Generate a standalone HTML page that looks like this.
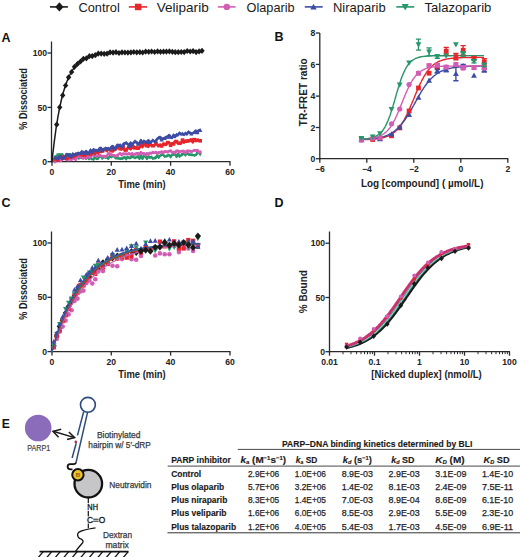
<!DOCTYPE html>
<html><head><meta charset="utf-8"><style>
html,body{margin:0;padding:0;background:#fff;width:520px;height:557px;overflow:hidden}
svg{display:block}
text{font-family:'Liberation Sans',sans-serif}
</style></head><body>
<svg width="520" height="557" viewBox="0 0 520 557" style="font-family:'Liberation Sans',sans-serif">
<rect width="520" height="557" fill="#fff"/>
<line x1="50" y1="6.9" x2="67.9" y2="6.9" stroke="#1b1b1b" stroke-width="1.6"/>
<path d="M59.4 2.2L63.5 6.9L59.4 11.6L55.3 6.9Z" fill="#1b1b1b"/>
<text x="78.5" y="12.1" font-size="13.6" font-weight="normal" text-anchor="start" fill="#1a1a1a" textLength="41.3" lengthAdjust="spacingAndGlyphs" >Control</text>
<line x1="128.8" y1="6.9" x2="147" y2="6.9" stroke="#e5262c" stroke-width="1.6"/>
<rect x="134.9" y="3.7" width="6.5" height="6.5" fill="#e5262c"/>
<text x="156.7" y="12.1" font-size="13.6" font-weight="normal" text-anchor="start" fill="#1a1a1a" textLength="52.0" lengthAdjust="spacingAndGlyphs" >Veliparib</text>
<line x1="217.8" y1="6.9" x2="235.6" y2="6.9" stroke="#d25db4" stroke-width="1.6"/>
<circle cx="226.8" cy="6.9" r="3.2" fill="#d25db4"/>
<text x="246.5" y="12.1" font-size="13.6" font-weight="normal" text-anchor="start" fill="#1a1a1a" textLength="48.1" lengthAdjust="spacingAndGlyphs" >Olaparib</text>
<line x1="304.8" y1="6.9" x2="322.7" y2="6.9" stroke="#3d4ca4" stroke-width="1.6"/>
<path d="M313.5 3.7L316.7 9.5L310.3 9.5Z" fill="#3d4ca4"/>
<text x="333" y="12.1" font-size="13.6" font-weight="normal" text-anchor="start" fill="#1a1a1a" textLength="52.6" lengthAdjust="spacingAndGlyphs" >Niraparib</text>
<line x1="396.3" y1="6.9" x2="414.3" y2="6.9" stroke="#27966a" stroke-width="1.6"/>
<path d="M405.2 10.4L408.7 4.1L401.7 4.1Z" fill="#27966a"/>
<text x="424.5" y="12.1" font-size="13.6" font-weight="normal" text-anchor="start" fill="#1a1a1a" textLength="66.8" lengthAdjust="spacingAndGlyphs" >Talazoparib</text>
<path d="M51.5 41.5V162.2" stroke="#2a2a2a" stroke-width="1.3" fill="none"/>
<path d="M51.0 161.7H230.5" stroke="#2a2a2a" stroke-width="1.3" fill="none"/>
<path d="M47.5 53H51.5" stroke="#2a2a2a" stroke-width="1.3"/>
<text x="47.0" y="56.1" font-size="8.6" font-weight="bold" text-anchor="end" fill="#222" >100</text>
<path d="M47.5 107.4H51.5" stroke="#2a2a2a" stroke-width="1.3"/>
<text x="47.0" y="110.5" font-size="8.6" font-weight="bold" text-anchor="end" fill="#222" >50</text>
<path d="M47.5 161.7H51.5" stroke="#2a2a2a" stroke-width="1.3"/>
<text x="47.0" y="164.79999999999998" font-size="8.6" font-weight="bold" text-anchor="end" fill="#222" >0</text>
<path d="M52 161.7V165.7" stroke="#2a2a2a" stroke-width="1.3"/>
<text x="52" y="174.7" font-size="8.6" font-weight="bold" text-anchor="middle" fill="#222" >0</text>
<path d="M111.3 161.7V165.7" stroke="#2a2a2a" stroke-width="1.3"/>
<text x="111.3" y="174.7" font-size="8.6" font-weight="bold" text-anchor="middle" fill="#222" >20</text>
<path d="M170.6 161.7V165.7" stroke="#2a2a2a" stroke-width="1.3"/>
<text x="170.6" y="174.7" font-size="8.6" font-weight="bold" text-anchor="middle" fill="#222" >40</text>
<path d="M230 161.7V165.7" stroke="#2a2a2a" stroke-width="1.3"/>
<text x="230" y="174.7" font-size="8.6" font-weight="bold" text-anchor="middle" fill="#222" >60</text>
<text x="142" y="188.4" font-size="10.5" font-weight="bold" text-anchor="middle" fill="#222" textLength="47.5" lengthAdjust="spacingAndGlyphs" >Time (min)</text>
<text x="0" y="0" font-size="10.5" font-weight="bold" text-anchor="middle" fill="#222" textLength="61.4" lengthAdjust="spacingAndGlyphs" transform="translate(27.2,99) rotate(-90)">% Dissociated</text>
<text x="1.5" y="41.6" font-size="12.5" font-weight="bold" text-anchor="start" fill="#111" >A</text>
<path d="M55.0 157.2 L56.4 155.9 L57.9 154.8 L59.4 154.3 L60.9 154.9 L62.4 154.3 L63.9 157.3 L65.3 155.8 L66.8 154.3 L68.3 155.2 L69.8 154.4 L71.3 157.2 L72.8 156.2 L74.2 157.1 L75.7 156.3 L77.2 156.4 L78.7 158.4 L80.2 157.9 L81.7 157.9 L83.1 156.0 L84.6 156.7 L86.1 158.8 L87.6 156.9 L89.1 159.1 L90.5 157.5 L92.0 159.1 L93.5 159.4 L95.0 156.6 L96.5 158.7 L98.0 158.7 L99.4 156.2 L100.9 156.5 L102.4 158.4 L103.9 156.2 L105.4 157.6 L106.9 157.1 L108.3 158.6 L109.8 156.2 L111.3 157.0 L112.8 156.1 L114.3 156.3 L115.7 158.2 L117.2 158.0 L118.7 158.6 L120.2 158.7 L121.7 158.9 L123.2 158.1 L124.6 157.1 L126.1 159.0 L127.6 156.8 L129.1 157.9 L130.6 158.0 L132.1 156.3 L133.5 157.4 L135.0 157.9 L136.5 157.4 L138.0 156.6 L139.5 158.7 L140.9 155.7 L142.4 158.8 L143.9 156.4 L145.4 156.1 L146.9 158.7 L148.4 156.2 L149.8 157.6 L151.3 156.8 L152.8 158.5 L154.3 158.3 L155.8 157.8 L157.3 155.1 L158.7 157.5 L160.2 155.6 L161.7 154.9 L163.2 154.7 L164.7 156.6 L166.2 156.4 L167.6 155.8 L169.1 154.9 L170.6 156.9 L172.1 154.7 L173.6 154.5 L175.0 154.2 L176.5 156.7 L178.0 153.7 L179.5 156.4 L181.0 155.4 L182.5 154.5 L183.9 153.3 L185.4 155.1 L186.9 153.1 L188.4 154.2 L189.9 154.9 L191.4 154.8 L192.8 155.1 L194.3 155.3 L195.8 155.0 L197.3 153.1 L198.8 152.0 L200.2 154.7" fill="none" stroke="#27966a" stroke-width="2.4" stroke-linejoin="round" />
<path d="M55.0 159.0L56.7 155.8L53.2 155.8Z" fill="#27966a"/>
<path d="M57.9 156.5L59.7 153.4L56.2 153.4Z" fill="#27966a"/>
<path d="M60.9 156.7L62.6 153.5L59.2 153.5Z" fill="#27966a"/>
<path d="M63.9 159.0L65.6 155.9L62.1 155.9Z" fill="#27966a"/>
<path d="M66.8 156.0L68.6 152.9L65.1 152.9Z" fill="#27966a"/>
<path d="M69.8 156.2L71.5 153.0L68.0 153.0Z" fill="#27966a"/>
<path d="M72.8 157.9L74.5 154.8L71.0 154.8Z" fill="#27966a"/>
<path d="M75.7 158.0L77.5 154.9L74.0 154.9Z" fill="#27966a"/>
<path d="M78.7 160.1L80.4 157.0L76.9 157.0Z" fill="#27966a"/>
<path d="M81.7 159.6L83.4 156.5L79.9 156.5Z" fill="#27966a"/>
<path d="M84.6 158.4L86.4 155.3L82.9 155.3Z" fill="#27966a"/>
<path d="M87.6 158.7L89.3 155.5L85.8 155.5Z" fill="#27966a"/>
<path d="M90.5 159.2L92.3 156.1L88.8 156.1Z" fill="#27966a"/>
<path d="M93.5 161.2L95.2 158.1L91.8 158.1Z" fill="#27966a"/>
<path d="M96.5 160.5L98.2 157.3L94.7 157.3Z" fill="#27966a"/>
<path d="M99.4 157.9L101.2 154.8L97.7 154.8Z" fill="#27966a"/>
<path d="M102.4 160.1L104.1 157.0L100.7 157.0Z" fill="#27966a"/>
<path d="M105.4 159.3L107.1 156.2L103.6 156.2Z" fill="#27966a"/>
<path d="M108.3 160.3L110.1 157.2L106.6 157.2Z" fill="#27966a"/>
<path d="M111.3 158.7L113.0 155.6L109.6 155.6Z" fill="#27966a"/>
<path d="M114.3 158.0L116.0 154.9L112.5 154.9Z" fill="#27966a"/>
<path d="M117.2 159.7L119.0 156.6L115.5 156.6Z" fill="#27966a"/>
<path d="M120.2 160.4L121.9 157.3L118.5 157.3Z" fill="#27966a"/>
<path d="M123.2 159.8L124.9 156.7L121.4 156.7Z" fill="#27966a"/>
<path d="M126.1 160.8L127.9 157.7L124.4 157.7Z" fill="#27966a"/>
<path d="M129.1 159.7L130.8 156.5L127.4 156.5Z" fill="#27966a"/>
<path d="M132.1 158.1L133.8 154.9L130.3 154.9Z" fill="#27966a"/>
<path d="M135.0 159.7L136.8 156.5L133.3 156.5Z" fill="#27966a"/>
<path d="M138.0 158.4L139.7 155.2L136.2 155.2Z" fill="#27966a"/>
<path d="M140.9 157.4L142.7 154.3L139.2 154.3Z" fill="#27966a"/>
<path d="M143.9 158.1L145.7 155.0L142.2 155.0Z" fill="#27966a"/>
<path d="M146.9 160.5L148.6 157.4L145.1 157.4Z" fill="#27966a"/>
<path d="M149.8 159.3L151.6 156.2L148.1 156.2Z" fill="#27966a"/>
<path d="M152.8 160.3L154.6 157.1L151.1 157.1Z" fill="#27966a"/>
<path d="M155.8 159.5L157.5 156.4L154.0 156.4Z" fill="#27966a"/>
<path d="M158.7 159.2L160.5 156.1L157.0 156.1Z" fill="#27966a"/>
<path d="M161.7 156.6L163.4 153.5L160.0 153.5Z" fill="#27966a"/>
<path d="M164.7 158.3L166.4 155.2L162.9 155.2Z" fill="#27966a"/>
<path d="M167.6 157.5L169.4 154.4L165.9 154.4Z" fill="#27966a"/>
<path d="M170.6 158.7L172.3 155.5L168.9 155.5Z" fill="#27966a"/>
<path d="M173.6 156.2L175.3 153.1L171.8 153.1Z" fill="#27966a"/>
<path d="M176.5 158.5L178.3 155.4L174.8 155.4Z" fill="#27966a"/>
<path d="M179.5 158.1L181.2 155.0L177.8 155.0Z" fill="#27966a"/>
<path d="M182.5 156.2L184.2 153.1L180.7 153.1Z" fill="#27966a"/>
<path d="M185.4 156.9L187.2 153.7L183.7 153.7Z" fill="#27966a"/>
<path d="M188.4 156.0L190.1 152.9L186.6 152.9Z" fill="#27966a"/>
<path d="M191.4 156.5L193.1 153.4L189.6 153.4Z" fill="#27966a"/>
<path d="M194.3 157.1L196.1 154.0L192.6 154.0Z" fill="#27966a"/>
<path d="M197.3 154.9L199.0 151.7L195.5 151.7Z" fill="#27966a"/>
<path d="M200.2 156.4L202.0 153.3L198.5 153.3Z" fill="#27966a"/>
<path d="M55.0 161.8 L56.4 158.6 L57.9 159.9 L59.4 160.2 L60.9 160.6 L62.4 159.2 L63.9 158.3 L65.3 159.4 L66.8 159.3 L68.3 160.4 L69.8 157.4 L71.3 160.1 L72.8 158.5 L74.2 157.2 L75.7 159.4 L77.2 157.3 L78.7 156.4 L80.2 157.3 L81.7 156.6 L83.1 158.7 L84.6 157.5 L86.1 158.2 L87.6 155.8 L89.1 157.5 L90.5 156.8 L92.0 154.9 L93.5 155.2 L95.0 154.6 L96.5 156.2 L98.0 155.9 L99.4 155.0 L100.9 155.7 L102.4 156.3 L103.9 155.8 L105.4 156.6 L106.9 155.8 L108.3 153.7 L109.8 153.8 L111.3 154.8 L112.8 155.1 L114.3 155.6 L115.7 156.4 L117.2 155.7 L118.7 154.0 L120.2 153.6 L121.7 155.2 L123.2 153.8 L124.6 153.7 L126.1 153.9 L127.6 154.0 L129.1 153.6 L130.6 154.8 L132.1 153.6 L133.5 155.0 L135.0 154.2 L136.5 153.2 L138.0 153.4 L139.5 154.7 L140.9 152.5 L142.4 153.4 L143.9 153.5 L145.4 155.3 L146.9 153.5 L148.4 154.4 L149.8 153.0 L151.3 153.6 L152.8 152.4 L154.3 152.8 L155.8 152.3 L157.3 153.6 L158.7 152.6 L160.2 152.2 L161.7 151.8 L163.2 153.3 L164.7 151.6 L166.2 151.5 L167.6 152.0 L169.1 151.0 L170.6 150.9 L172.1 152.3 L173.6 152.2 L175.0 153.3 L176.5 151.0 L178.0 150.6 L179.5 152.0 L181.0 151.2 L182.5 151.1 L183.9 151.0 L185.4 152.7 L186.9 150.6 L188.4 151.2 L189.9 150.8 L191.4 151.6 L192.8 150.8 L194.3 150.3 L195.8 150.6 L197.3 150.3 L198.8 152.5 L200.2 151.9" fill="none" stroke="#d25db4" stroke-width="2.4" stroke-linejoin="round" />
<circle cx="55.0" cy="161.8" r="1.6" fill="#d25db4"/>
<circle cx="57.9" cy="159.9" r="1.6" fill="#d25db4"/>
<circle cx="60.9" cy="160.6" r="1.6" fill="#d25db4"/>
<circle cx="63.9" cy="158.3" r="1.6" fill="#d25db4"/>
<circle cx="66.8" cy="159.3" r="1.6" fill="#d25db4"/>
<circle cx="69.8" cy="157.4" r="1.6" fill="#d25db4"/>
<circle cx="72.8" cy="158.5" r="1.6" fill="#d25db4"/>
<circle cx="75.7" cy="159.4" r="1.6" fill="#d25db4"/>
<circle cx="78.7" cy="156.4" r="1.6" fill="#d25db4"/>
<circle cx="81.7" cy="156.6" r="1.6" fill="#d25db4"/>
<circle cx="84.6" cy="157.5" r="1.6" fill="#d25db4"/>
<circle cx="87.6" cy="155.8" r="1.6" fill="#d25db4"/>
<circle cx="90.5" cy="156.8" r="1.6" fill="#d25db4"/>
<circle cx="93.5" cy="155.2" r="1.6" fill="#d25db4"/>
<circle cx="96.5" cy="156.2" r="1.6" fill="#d25db4"/>
<circle cx="99.4" cy="155.0" r="1.6" fill="#d25db4"/>
<circle cx="102.4" cy="156.3" r="1.6" fill="#d25db4"/>
<circle cx="105.4" cy="156.6" r="1.6" fill="#d25db4"/>
<circle cx="108.3" cy="153.7" r="1.6" fill="#d25db4"/>
<circle cx="111.3" cy="154.8" r="1.6" fill="#d25db4"/>
<circle cx="114.3" cy="155.6" r="1.6" fill="#d25db4"/>
<circle cx="117.2" cy="155.7" r="1.6" fill="#d25db4"/>
<circle cx="120.2" cy="153.6" r="1.6" fill="#d25db4"/>
<circle cx="123.2" cy="153.8" r="1.6" fill="#d25db4"/>
<circle cx="126.1" cy="153.9" r="1.6" fill="#d25db4"/>
<circle cx="129.1" cy="153.6" r="1.6" fill="#d25db4"/>
<circle cx="132.1" cy="153.6" r="1.6" fill="#d25db4"/>
<circle cx="135.0" cy="154.2" r="1.6" fill="#d25db4"/>
<circle cx="138.0" cy="153.4" r="1.6" fill="#d25db4"/>
<circle cx="140.9" cy="152.5" r="1.6" fill="#d25db4"/>
<circle cx="143.9" cy="153.5" r="1.6" fill="#d25db4"/>
<circle cx="146.9" cy="153.5" r="1.6" fill="#d25db4"/>
<circle cx="149.8" cy="153.0" r="1.6" fill="#d25db4"/>
<circle cx="152.8" cy="152.4" r="1.6" fill="#d25db4"/>
<circle cx="155.8" cy="152.3" r="1.6" fill="#d25db4"/>
<circle cx="158.7" cy="152.6" r="1.6" fill="#d25db4"/>
<circle cx="161.7" cy="151.8" r="1.6" fill="#d25db4"/>
<circle cx="164.7" cy="151.6" r="1.6" fill="#d25db4"/>
<circle cx="167.6" cy="152.0" r="1.6" fill="#d25db4"/>
<circle cx="170.6" cy="150.9" r="1.6" fill="#d25db4"/>
<circle cx="173.6" cy="152.2" r="1.6" fill="#d25db4"/>
<circle cx="176.5" cy="151.0" r="1.6" fill="#d25db4"/>
<circle cx="179.5" cy="152.0" r="1.6" fill="#d25db4"/>
<circle cx="182.5" cy="151.1" r="1.6" fill="#d25db4"/>
<circle cx="185.4" cy="152.7" r="1.6" fill="#d25db4"/>
<circle cx="188.4" cy="151.2" r="1.6" fill="#d25db4"/>
<circle cx="191.4" cy="151.6" r="1.6" fill="#d25db4"/>
<circle cx="194.3" cy="150.3" r="1.6" fill="#d25db4"/>
<circle cx="197.3" cy="150.3" r="1.6" fill="#d25db4"/>
<circle cx="200.2" cy="151.9" r="1.6" fill="#d25db4"/>
<path d="M55.0 159.2 L56.4 158.0 L57.9 159.4 L59.4 157.3 L60.9 157.2 L62.4 159.2 L63.9 157.2 L65.3 157.9 L66.8 158.3 L68.3 157.7 L69.8 156.7 L71.3 156.9 L72.8 156.5 L74.2 156.9 L75.7 154.9 L77.2 154.9 L78.7 153.7 L80.2 153.5 L81.7 154.6 L83.1 151.8 L84.6 155.2 L86.1 153.4 L87.6 153.7 L89.1 153.1 L90.5 154.0 L92.0 151.1 L93.5 152.7 L95.0 153.8 L96.5 151.4 L98.0 153.3 L99.4 151.3 L100.9 152.0 L102.4 150.9 L103.9 149.2 L105.4 149.6 L106.9 151.0 L108.3 149.3 L109.8 149.8 L111.3 150.7 L112.8 151.4 L114.3 149.4 L115.7 149.4 L117.2 147.7 L118.7 147.5 L120.2 148.7 L121.7 149.5 L123.2 147.3 L124.6 150.6 L126.1 150.0 L127.6 148.0 L129.1 147.7 L130.6 149.3 L132.1 147.3 L133.5 146.1 L135.0 147.9 L136.5 147.5 L138.0 148.2 L139.5 147.7 L140.9 144.9 L142.4 147.1 L143.9 144.6 L145.4 144.6 L146.9 145.7 L148.4 146.8 L149.8 143.9 L151.3 145.6 L152.8 145.7 L154.3 145.9 L155.8 143.2 L157.3 144.9 L158.7 145.6 L160.2 144.6 L161.7 145.9 L163.2 143.7 L164.7 144.3 L166.2 144.7 L167.6 142.6 L169.1 142.2 L170.6 145.3 L172.1 143.1 L173.6 143.9 L175.0 141.1 L176.5 141.6 L178.0 143.5 L179.5 143.2 L181.0 143.5 L182.5 140.1 L183.9 142.6 L185.4 141.2 L186.9 141.6 L188.4 140.8 L189.9 140.7 L191.4 140.0 L192.8 142.3 L194.3 139.6 L195.8 141.2 L197.3 140.2 L198.8 140.8 L200.2 140.8" fill="none" stroke="#e5262c" stroke-width="2.6" stroke-linejoin="round" />
<rect x="53.2" y="157.4" width="3.6" height="3.6" fill="#e5262c"/>
<rect x="56.1" y="157.6" width="3.6" height="3.6" fill="#e5262c"/>
<rect x="59.1" y="155.4" width="3.6" height="3.6" fill="#e5262c"/>
<rect x="62.1" y="155.4" width="3.6" height="3.6" fill="#e5262c"/>
<rect x="65.0" y="156.5" width="3.6" height="3.6" fill="#e5262c"/>
<rect x="68.0" y="154.9" width="3.6" height="3.6" fill="#e5262c"/>
<rect x="71.0" y="154.7" width="3.6" height="3.6" fill="#e5262c"/>
<rect x="73.9" y="153.1" width="3.6" height="3.6" fill="#e5262c"/>
<rect x="76.9" y="151.9" width="3.6" height="3.6" fill="#e5262c"/>
<rect x="79.9" y="152.8" width="3.6" height="3.6" fill="#e5262c"/>
<rect x="82.8" y="153.4" width="3.6" height="3.6" fill="#e5262c"/>
<rect x="85.8" y="151.9" width="3.6" height="3.6" fill="#e5262c"/>
<rect x="88.7" y="152.2" width="3.6" height="3.6" fill="#e5262c"/>
<rect x="91.7" y="150.9" width="3.6" height="3.6" fill="#e5262c"/>
<rect x="94.7" y="149.6" width="3.6" height="3.6" fill="#e5262c"/>
<rect x="97.6" y="149.5" width="3.6" height="3.6" fill="#e5262c"/>
<rect x="100.6" y="149.1" width="3.6" height="3.6" fill="#e5262c"/>
<rect x="103.6" y="147.8" width="3.6" height="3.6" fill="#e5262c"/>
<rect x="106.5" y="147.5" width="3.6" height="3.6" fill="#e5262c"/>
<rect x="109.5" y="148.9" width="3.6" height="3.6" fill="#e5262c"/>
<rect x="112.5" y="147.6" width="3.6" height="3.6" fill="#e5262c"/>
<rect x="115.4" y="145.9" width="3.6" height="3.6" fill="#e5262c"/>
<rect x="118.4" y="146.9" width="3.6" height="3.6" fill="#e5262c"/>
<rect x="121.4" y="145.5" width="3.6" height="3.6" fill="#e5262c"/>
<rect x="124.3" y="148.2" width="3.6" height="3.6" fill="#e5262c"/>
<rect x="127.3" y="145.9" width="3.6" height="3.6" fill="#e5262c"/>
<rect x="130.3" y="145.5" width="3.6" height="3.6" fill="#e5262c"/>
<rect x="133.2" y="146.1" width="3.6" height="3.6" fill="#e5262c"/>
<rect x="136.2" y="146.4" width="3.6" height="3.6" fill="#e5262c"/>
<rect x="139.1" y="143.1" width="3.6" height="3.6" fill="#e5262c"/>
<rect x="142.1" y="142.8" width="3.6" height="3.6" fill="#e5262c"/>
<rect x="145.1" y="143.9" width="3.6" height="3.6" fill="#e5262c"/>
<rect x="148.0" y="142.1" width="3.6" height="3.6" fill="#e5262c"/>
<rect x="151.0" y="143.9" width="3.6" height="3.6" fill="#e5262c"/>
<rect x="154.0" y="141.4" width="3.6" height="3.6" fill="#e5262c"/>
<rect x="156.9" y="143.8" width="3.6" height="3.6" fill="#e5262c"/>
<rect x="159.9" y="144.1" width="3.6" height="3.6" fill="#e5262c"/>
<rect x="162.9" y="142.5" width="3.6" height="3.6" fill="#e5262c"/>
<rect x="165.8" y="140.8" width="3.6" height="3.6" fill="#e5262c"/>
<rect x="168.8" y="143.5" width="3.6" height="3.6" fill="#e5262c"/>
<rect x="171.8" y="142.1" width="3.6" height="3.6" fill="#e5262c"/>
<rect x="174.7" y="139.8" width="3.6" height="3.6" fill="#e5262c"/>
<rect x="177.7" y="141.4" width="3.6" height="3.6" fill="#e5262c"/>
<rect x="180.7" y="138.3" width="3.6" height="3.6" fill="#e5262c"/>
<rect x="183.6" y="139.4" width="3.6" height="3.6" fill="#e5262c"/>
<rect x="186.6" y="139.0" width="3.6" height="3.6" fill="#e5262c"/>
<rect x="189.6" y="138.2" width="3.6" height="3.6" fill="#e5262c"/>
<rect x="192.5" y="137.8" width="3.6" height="3.6" fill="#e5262c"/>
<rect x="195.5" y="138.4" width="3.6" height="3.6" fill="#e5262c"/>
<rect x="198.4" y="139.0" width="3.6" height="3.6" fill="#e5262c"/>
<path d="M55.0 157.9 L56.4 157.9 L57.9 158.1 L59.4 156.4 L60.9 156.8 L62.4 158.7 L63.9 157.7 L65.3 156.7 L66.8 154.6 L68.3 154.5 L69.8 155.5 L71.3 157.3 L72.8 154.0 L74.2 155.1 L75.7 154.2 L77.2 153.4 L78.7 153.4 L80.2 153.7 L81.7 151.7 L83.1 153.5 L84.6 153.1 L86.1 151.0 L87.6 153.3 L89.1 152.6 L90.5 150.2 L92.0 152.9 L93.5 149.6 L95.0 149.9 L96.5 150.6 L98.0 150.9 L99.4 148.6 L100.9 147.9 L102.4 150.6 L103.9 149.0 L105.4 148.5 L106.9 148.4 L108.3 148.8 L109.8 149.2 L111.3 147.2 L112.8 146.1 L114.3 148.7 L115.7 147.8 L117.2 145.2 L118.7 145.1 L120.2 145.3 L121.7 147.5 L123.2 144.5 L124.6 143.3 L126.1 142.9 L127.6 143.8 L129.1 146.1 L130.6 142.7 L132.1 144.9 L133.5 142.9 L135.0 141.5 L136.5 142.1 L138.0 144.1 L139.5 143.2 L140.9 140.5 L142.4 143.2 L143.9 141.2 L145.4 141.7 L146.9 142.4 L148.4 140.3 L149.8 142.3 L151.3 141.7 L152.8 140.4 L154.3 141.3 L155.8 141.1 L157.3 138.8 L158.7 137.8 L160.2 137.0 L161.7 139.6 L163.2 138.2 L164.7 138.4 L166.2 136.9 L167.6 137.1 L169.1 135.0 L170.6 137.0 L172.1 137.9 L173.6 135.1 L175.0 137.0 L176.5 134.8 L178.0 135.0 L179.5 133.1 L181.0 134.2 L182.5 133.7 L183.9 134.8 L185.4 133.4 L186.9 134.3 L188.4 132.0 L189.9 132.7 L191.4 133.9 L192.8 133.2 L194.3 132.4 L195.8 130.7 L197.3 132.6 L198.8 130.2 L200.2 130.1" fill="none" stroke="#3d4ca4" stroke-width="2.6" stroke-linejoin="round" />
<path d="M55.0 155.7L57.1 159.6L52.8 159.6Z" fill="#3d4ca4"/>
<path d="M57.9 155.9L60.1 159.9L55.8 159.9Z" fill="#3d4ca4"/>
<path d="M60.9 154.6L63.1 158.5L58.7 158.5Z" fill="#3d4ca4"/>
<path d="M63.9 155.5L66.0 159.4L61.7 159.4Z" fill="#3d4ca4"/>
<path d="M66.8 152.5L69.0 156.4L64.7 156.4Z" fill="#3d4ca4"/>
<path d="M69.8 153.3L72.0 157.2L67.6 157.2Z" fill="#3d4ca4"/>
<path d="M72.8 151.8L74.9 155.7L70.6 155.7Z" fill="#3d4ca4"/>
<path d="M75.7 152.0L77.9 155.9L73.5 155.9Z" fill="#3d4ca4"/>
<path d="M78.7 151.2L80.9 155.1L76.5 155.1Z" fill="#3d4ca4"/>
<path d="M81.7 149.5L83.8 153.4L79.5 153.4Z" fill="#3d4ca4"/>
<path d="M84.6 151.0L86.8 154.9L82.4 154.9Z" fill="#3d4ca4"/>
<path d="M87.6 151.1L89.8 155.0L85.4 155.0Z" fill="#3d4ca4"/>
<path d="M90.5 148.1L92.7 152.0L88.4 152.0Z" fill="#3d4ca4"/>
<path d="M93.5 147.4L95.7 151.4L91.3 151.4Z" fill="#3d4ca4"/>
<path d="M96.5 148.4L98.6 152.3L94.3 152.3Z" fill="#3d4ca4"/>
<path d="M99.4 146.5L101.6 150.4L97.3 150.4Z" fill="#3d4ca4"/>
<path d="M102.4 148.4L104.6 152.3L100.2 152.3Z" fill="#3d4ca4"/>
<path d="M105.4 146.3L107.5 150.2L103.2 150.2Z" fill="#3d4ca4"/>
<path d="M108.3 146.6L110.5 150.5L106.2 150.5Z" fill="#3d4ca4"/>
<path d="M111.3 145.1L113.5 149.0L109.1 149.0Z" fill="#3d4ca4"/>
<path d="M114.3 146.5L116.4 150.5L112.1 150.5Z" fill="#3d4ca4"/>
<path d="M117.2 143.1L119.4 147.0L115.1 147.0Z" fill="#3d4ca4"/>
<path d="M120.2 143.1L122.4 147.0L118.0 147.0Z" fill="#3d4ca4"/>
<path d="M123.2 142.3L125.3 146.3L121.0 146.3Z" fill="#3d4ca4"/>
<path d="M126.1 140.7L128.3 144.6L124.0 144.6Z" fill="#3d4ca4"/>
<path d="M129.1 143.9L131.3 147.8L126.9 147.8Z" fill="#3d4ca4"/>
<path d="M132.1 142.7L134.2 146.6L129.9 146.6Z" fill="#3d4ca4"/>
<path d="M135.0 139.3L137.2 143.2L132.8 143.2Z" fill="#3d4ca4"/>
<path d="M138.0 141.9L140.2 145.8L135.8 145.8Z" fill="#3d4ca4"/>
<path d="M140.9 138.3L143.1 142.2L138.8 142.2Z" fill="#3d4ca4"/>
<path d="M143.9 139.0L146.1 142.9L141.7 142.9Z" fill="#3d4ca4"/>
<path d="M146.9 140.2L149.1 144.1L144.7 144.1Z" fill="#3d4ca4"/>
<path d="M149.8 140.1L152.0 144.0L147.7 144.0Z" fill="#3d4ca4"/>
<path d="M152.8 138.2L155.0 142.1L150.6 142.1Z" fill="#3d4ca4"/>
<path d="M155.8 138.9L157.9 142.8L153.6 142.8Z" fill="#3d4ca4"/>
<path d="M158.7 135.7L160.9 139.6L156.6 139.6Z" fill="#3d4ca4"/>
<path d="M161.7 137.5L163.9 141.4L159.5 141.4Z" fill="#3d4ca4"/>
<path d="M164.7 136.2L166.8 140.1L162.5 140.1Z" fill="#3d4ca4"/>
<path d="M167.6 134.9L169.8 138.8L165.5 138.8Z" fill="#3d4ca4"/>
<path d="M170.6 134.8L172.8 138.7L168.4 138.7Z" fill="#3d4ca4"/>
<path d="M173.6 133.0L175.7 136.9L171.4 136.9Z" fill="#3d4ca4"/>
<path d="M176.5 132.6L178.7 136.6L174.4 136.6Z" fill="#3d4ca4"/>
<path d="M179.5 131.0L181.7 134.9L177.3 134.9Z" fill="#3d4ca4"/>
<path d="M182.5 131.5L184.6 135.4L180.3 135.4Z" fill="#3d4ca4"/>
<path d="M185.4 131.2L187.6 135.1L183.2 135.1Z" fill="#3d4ca4"/>
<path d="M188.4 129.9L190.6 133.8L186.2 133.8Z" fill="#3d4ca4"/>
<path d="M191.4 131.7L193.5 135.6L189.2 135.6Z" fill="#3d4ca4"/>
<path d="M194.3 130.2L196.5 134.1L192.1 134.1Z" fill="#3d4ca4"/>
<path d="M197.3 130.4L199.5 134.3L195.1 134.3Z" fill="#3d4ca4"/>
<path d="M200.2 127.9L202.4 131.9L198.1 131.9Z" fill="#3d4ca4"/>
<path d="M52.0 161.7 L52.0 161.7 L52.7 154.7 L53.5 148.2 L54.2 142.1 L55.0 136.4 L55.7 131.0 L56.4 126.0 L57.2 121.3 L57.9 116.9 L58.7 112.8 L59.4 109.0 L60.2 105.4 L60.9 102.0 L61.6 98.8 L62.4 95.9 L63.1 93.1 L63.9 90.5 L64.6 88.1 L65.3 85.8 L66.1 83.7 L66.8 81.7 L67.6 79.9 L68.3 78.1 L69.0 76.5 L69.8 75.0 L70.5 73.5 L71.3 72.2 L72.0 71.0 L72.8 69.8 L73.5 68.7 L74.2 67.7 L75.0 66.7 L75.7 65.8 L76.5 64.9 L77.2 64.2 L77.9 63.4 L78.7 62.7 L79.4 62.1 L80.2 61.5 L80.9 60.9 L81.7 60.4 L82.4 59.9 L83.1 59.4 L83.9 58.9 L84.6 58.5 L85.4 58.1 L86.1 57.8 L86.8 57.4 L87.6 57.1 L88.3 56.8 L89.1 56.6 L89.8 56.3 L90.5 56.0 L91.3 55.8 L92.0 55.6 L92.8 55.4 L93.5 55.2 L94.3 55.0 L95.0 54.9 L95.7 54.7 L96.5 54.6 L97.2 54.4 L98.0 54.3 L98.7 54.2 L99.4 54.0 L100.2 53.9 L100.9 53.8 L101.7 53.7 L102.4 53.6 L103.1 53.6 L103.9 53.5 L104.6 53.4 L105.4 53.3 L106.1 53.3 L106.9 53.2 L107.6 53.1 L108.3 53.1 L109.1 53.0 L109.8 53.0 L110.6 52.9 L111.3 52.9 L112.0 52.8 L112.8 52.8 L113.5 52.8 L114.3 52.7 L115.0 52.7 L115.7 52.7 L116.5 52.6 L117.2 52.6 L118.0 52.6 L118.7 52.5 L119.5 52.5 L120.2 52.5 L120.9 52.5 L121.7 52.4 L122.4 52.4 L123.2 52.4 L123.9 52.4 L124.6 52.4 L125.4 52.3 L126.1 52.3 L126.9 52.3 L127.6 52.3 L128.3 52.3 L129.1 52.3 L129.8 52.2 L130.6 52.2 L131.3 52.2 L132.1 52.2 L132.8 52.2 L133.5 52.2 L134.3 52.2 L135.0 52.2 L135.8 52.1 L136.5 52.1 L137.2 52.1 L138.0 52.1 L138.7 52.1 L139.5 52.1 L140.2 52.1 L140.9 52.1 L141.7 52.0 L142.4 52.0 L143.2 52.0 L143.9 52.0 L144.7 52.0 L145.4 52.0 L146.1 52.0 L146.9 52.0 L147.6 52.0 L148.4 52.0 L149.1 52.0 L149.8 51.9 L150.6 51.9 L151.3 51.9 L152.1 51.9 L152.8 51.9 L153.6 51.9 L154.3 51.9 L155.0 51.9 L155.8 51.9 L156.5 51.9 L157.3 51.9 L158.0 51.8 L158.7 51.8 L159.5 51.8 L160.2 51.8 L161.0 51.8 L161.7 51.8 L162.4 51.8 L163.2 51.8 L163.9 51.8 L164.7 51.8 L165.4 51.8 L166.2 51.7 L166.9 51.7 L167.6 51.7 L168.4 51.7 L169.1 51.7 L169.9 51.7 L170.6 51.7 L171.3 51.7 L172.1 51.7 L172.8 51.7 L173.6 51.7 L174.3 51.7 L175.0 51.6 L175.8 51.6 L176.5 51.6 L177.3 51.6 L178.0 51.6 L178.8 51.6 L179.5 51.6 L180.2 51.6 L181.0 51.6 L181.7 51.6 L182.5 51.6 L183.2 51.6 L183.9 51.5 L184.7 51.5 L185.4 51.5 L186.2 51.5 L186.9 51.5 L187.6 51.5 L188.4 51.5 L189.1 51.5 L189.9 51.5 L190.6 51.5 L191.4 51.5 L192.1 51.5 L192.8 51.5 L193.6 51.4 L194.3 51.4 L195.1 51.4 L195.8 51.4 L196.5 51.4 L197.3 51.4 L198.0 51.4 L198.8 51.4 L199.5 51.4 L200.2 51.4 L201.0 51.4 L201.7 51.4 L202.5 51.3 L203.2 51.3" fill="none" stroke="#1b1b1b" stroke-width="1.5" stroke-linejoin="round" />
<path d="M56.7 121.5L59.4 124.6L56.7 127.7L54.0 124.6Z" fill="#1b1b1b"/>
<path d="M59.7 104.2L62.4 107.3L59.7 110.4L57.0 107.3Z" fill="#1b1b1b"/>
<path d="M62.7 92.2L65.4 95.3L62.7 98.4L60.0 95.3Z" fill="#1b1b1b"/>
<path d="M65.6 82.4L68.3 85.5L65.6 88.6L62.9 85.5Z" fill="#1b1b1b"/>
<path d="M68.6 74.2L71.3 77.3L68.6 80.4L65.9 77.3Z" fill="#1b1b1b"/>
<path d="M71.6 68.9L74.3 72.0L71.6 75.1L68.9 72.0Z" fill="#1b1b1b"/>
<path d="M74.5 63.7L77.2 66.8L74.5 69.9L71.8 66.8Z" fill="#1b1b1b"/>
<path d="M77.5 60.8L80.2 63.9L77.5 67.0L74.8 63.9Z" fill="#1b1b1b"/>
<path d="M80.5 58.4L83.2 61.5L80.5 64.6L77.8 61.5Z" fill="#1b1b1b"/>
<path d="M83.4 55.7L86.1 58.8L83.4 61.9L80.7 58.8Z" fill="#1b1b1b"/>
<path d="M86.4 55.2L89.1 58.3L86.4 61.4L83.7 58.3Z" fill="#1b1b1b"/>
<path d="M89.4 53.1L92.1 56.2L89.4 59.3L86.7 56.2Z" fill="#1b1b1b"/>
<path d="M92.3 53.0L95.0 56.1L92.3 59.2L89.6 56.1Z" fill="#1b1b1b"/>
<path d="M95.3 52.1L98.0 55.2L95.3 58.3L92.6 55.2Z" fill="#1b1b1b"/>
<path d="M98.3 50.5L101.0 53.6L98.3 56.7L95.6 53.6Z" fill="#1b1b1b"/>
<path d="M101.2 50.5L103.9 53.6L101.2 56.7L98.5 53.6Z" fill="#1b1b1b"/>
<path d="M104.2 50.7L106.9 53.8L104.2 56.9L101.5 53.8Z" fill="#1b1b1b"/>
<path d="M107.1 50.6L109.8 53.7L107.1 56.8L104.4 53.7Z" fill="#1b1b1b"/>
<path d="M110.1 49.2L112.8 52.3L110.1 55.4L107.4 52.3Z" fill="#1b1b1b"/>
<path d="M113.1 49.5L115.8 52.6L113.1 55.7L110.4 52.6Z" fill="#1b1b1b"/>
<path d="M116.0 49.1L118.7 52.2L116.0 55.3L113.3 52.2Z" fill="#1b1b1b"/>
<path d="M119.0 49.9L121.7 53.0L119.0 56.1L116.3 53.0Z" fill="#1b1b1b"/>
<path d="M122.0 49.2L124.7 52.3L122.0 55.4L119.3 52.3Z" fill="#1b1b1b"/>
<path d="M124.9 49.4L127.6 52.5L124.9 55.6L122.2 52.5Z" fill="#1b1b1b"/>
<path d="M127.9 49.5L130.6 52.6L127.9 55.7L125.2 52.6Z" fill="#1b1b1b"/>
<path d="M130.9 49.3L133.6 52.4L130.9 55.5L128.2 52.4Z" fill="#1b1b1b"/>
<path d="M133.8 48.9L136.5 52.0L133.8 55.1L131.1 52.0Z" fill="#1b1b1b"/>
<path d="M136.8 49.2L139.5 52.3L136.8 55.4L134.1 52.3Z" fill="#1b1b1b"/>
<path d="M139.8 49.1L142.5 52.2L139.8 55.3L137.1 52.2Z" fill="#1b1b1b"/>
<path d="M142.7 49.4L145.4 52.5L142.7 55.6L140.0 52.5Z" fill="#1b1b1b"/>
<path d="M145.7 48.5L148.4 51.6L145.7 54.7L143.0 51.6Z" fill="#1b1b1b"/>
<path d="M148.7 48.7L151.4 51.8L148.7 54.9L146.0 51.8Z" fill="#1b1b1b"/>
<path d="M151.6 48.4L154.3 51.5L151.6 54.6L148.9 51.5Z" fill="#1b1b1b"/>
<path d="M154.6 48.9L157.3 52.0L154.6 55.1L151.9 52.0Z" fill="#1b1b1b"/>
<path d="M157.6 48.3L160.3 51.4L157.6 54.5L154.9 51.4Z" fill="#1b1b1b"/>
<path d="M160.5 48.7L163.2 51.8L160.5 54.9L157.8 51.8Z" fill="#1b1b1b"/>
<path d="M163.5 48.6L166.2 51.7L163.5 54.8L160.8 51.7Z" fill="#1b1b1b"/>
<path d="M166.4 48.5L169.1 51.6L166.4 54.7L163.7 51.6Z" fill="#1b1b1b"/>
<path d="M169.4 48.3L172.1 51.4L169.4 54.5L166.7 51.4Z" fill="#1b1b1b"/>
<path d="M172.4 48.7L175.1 51.8L172.4 54.9L169.7 51.8Z" fill="#1b1b1b"/>
<path d="M175.3 49.1L178.0 52.2L175.3 55.3L172.6 52.2Z" fill="#1b1b1b"/>
<path d="M178.3 49.1L181.0 52.2L178.3 55.3L175.6 52.2Z" fill="#1b1b1b"/>
<path d="M181.3 48.9L184.0 52.0L181.3 55.1L178.6 52.0Z" fill="#1b1b1b"/>
<path d="M184.2 49.0L186.9 52.1L184.2 55.2L181.5 52.1Z" fill="#1b1b1b"/>
<path d="M187.2 47.9L189.9 51.0L187.2 54.1L184.5 51.0Z" fill="#1b1b1b"/>
<path d="M190.2 48.4L192.9 51.5L190.2 54.6L187.5 51.5Z" fill="#1b1b1b"/>
<path d="M193.1 48.0L195.8 51.1L193.1 54.2L190.4 51.1Z" fill="#1b1b1b"/>
<path d="M196.1 49.0L198.8 52.1L196.1 55.2L193.4 52.1Z" fill="#1b1b1b"/>
<path d="M199.1 48.3L201.8 51.4L199.1 54.5L196.4 51.4Z" fill="#1b1b1b"/>
<path d="M202.0 47.7L204.7 50.8L202.0 53.9L199.3 50.8Z" fill="#1b1b1b"/>
<path d="M319.8 33V159.2" stroke="#2a2a2a" stroke-width="1.3" fill="none"/>
<path d="M319.3 158.7H508.3" stroke="#2a2a2a" stroke-width="1.3" fill="none"/>
<path d="M315.8 33H319.8" stroke="#2a2a2a" stroke-width="1.3"/>
<text x="315.3" y="36.1" font-size="8.6" font-weight="bold" text-anchor="end" fill="#222" >8</text>
<path d="M315.8 64.4H319.8" stroke="#2a2a2a" stroke-width="1.3"/>
<text x="315.3" y="67.5" font-size="8.6" font-weight="bold" text-anchor="end" fill="#222" >6</text>
<path d="M315.8 96.1H319.8" stroke="#2a2a2a" stroke-width="1.3"/>
<text x="315.3" y="99.19999999999999" font-size="8.6" font-weight="bold" text-anchor="end" fill="#222" >4</text>
<path d="M315.8 127.5H319.8" stroke="#2a2a2a" stroke-width="1.3"/>
<text x="315.3" y="130.6" font-size="8.6" font-weight="bold" text-anchor="end" fill="#222" >2</text>
<path d="M315.8 158.7H319.8" stroke="#2a2a2a" stroke-width="1.3"/>
<text x="315.3" y="161.79999999999998" font-size="8.6" font-weight="bold" text-anchor="end" fill="#222" >0</text>
<path d="M319.8 158.7V162.7" stroke="#2a2a2a" stroke-width="1.3"/>
<text x="319.8" y="171.7" font-size="8.6" font-weight="bold" text-anchor="middle" fill="#222" >−6</text>
<path d="M366.8 158.7V162.7" stroke="#2a2a2a" stroke-width="1.3"/>
<text x="366.8" y="171.7" font-size="8.6" font-weight="bold" text-anchor="middle" fill="#222" >−4</text>
<path d="M413.8 158.7V162.7" stroke="#2a2a2a" stroke-width="1.3"/>
<text x="413.8" y="171.7" font-size="8.6" font-weight="bold" text-anchor="middle" fill="#222" >−2</text>
<path d="M460.8 158.7V162.7" stroke="#2a2a2a" stroke-width="1.3"/>
<text x="460.8" y="171.7" font-size="8.6" font-weight="bold" text-anchor="middle" fill="#222" >0</text>
<path d="M507.8 158.7V162.7" stroke="#2a2a2a" stroke-width="1.3"/>
<text x="507.8" y="171.7" font-size="8.6" font-weight="bold" text-anchor="middle" fill="#222" >2</text>
<text x="422.2" y="187.2" font-size="10.5" font-weight="bold" text-anchor="middle" fill="#222" textLength="122.5" lengthAdjust="spacingAndGlyphs" >Log [compound] ( µmol/L)</text>
<text x="0" y="0" font-size="10.5" font-weight="bold" text-anchor="middle" fill="#222" textLength="68" lengthAdjust="spacingAndGlyphs" transform="translate(307.2,92.2) rotate(-90)">TR-FRET ratio</text>
<text x="274.5" y="41.1" font-size="12.5" font-weight="bold" text-anchor="start" fill="#111" >B</text>
<path d="M360.9 139.7 L361.9 139.7 L362.8 139.6 L363.7 139.6 L364.7 139.6 L365.6 139.6 L366.6 139.5 L367.5 139.5 L368.4 139.5 L369.4 139.4 L370.3 139.4 L371.3 139.3 L372.2 139.2 L373.1 139.2 L374.1 139.1 L375.0 139.0 L376.0 138.9 L376.9 138.8 L377.8 138.7 L378.8 138.5 L379.7 138.4 L380.7 138.2 L381.6 138.0 L382.5 137.8 L383.5 137.6 L384.4 137.3 L385.4 137.0 L386.3 136.7 L387.2 136.4 L388.2 136.0 L389.1 135.6 L390.1 135.1 L391.0 134.6 L391.9 134.0 L392.9 133.4 L393.8 132.7 L394.8 131.9 L395.7 131.1 L396.6 130.2 L397.6 129.2 L398.5 128.1 L399.5 127.0 L400.4 125.7 L401.3 124.4 L402.3 122.9 L403.2 121.4 L404.2 119.8 L405.1 118.0 L406.0 116.2 L407.0 114.3 L407.9 112.3 L408.9 110.2 L409.8 108.1 L410.7 105.9 L411.7 103.7 L412.6 101.5 L413.6 99.2 L414.5 96.9 L415.4 94.6 L416.4 92.4 L417.3 90.2 L418.3 88.0 L419.2 85.9 L420.1 83.9 L421.1 82.0 L422.0 80.1 L423.0 78.3 L423.9 76.6 L424.8 75.1 L425.8 73.6 L426.7 72.2 L427.7 70.9 L428.6 69.7 L429.5 68.6 L430.5 67.5 L431.4 66.6 L432.4 65.7 L433.3 64.9 L434.2 64.2 L435.2 63.5 L436.1 62.9 L437.1 62.4 L438.0 61.9 L438.9 61.4 L439.9 61.0 L440.8 60.7 L441.8 60.3 L442.7 60.0 L443.6 59.8 L444.6 59.5 L445.5 59.3 L446.5 59.1 L447.4 58.9 L448.3 58.8 L449.3 58.6 L450.2 58.5 L451.2 58.4 L452.1 58.3 L453.0 58.2 L454.0 58.1 L454.9 58.0 L455.9 58.0 L456.8 57.9 L457.7 57.8 L458.7 57.8 L459.6 57.7 L460.6 57.7 L461.5 57.7 L462.4 57.6 L463.4 57.6 L464.3 57.6 L465.3 57.6 L466.2 57.5 L467.1 57.5 L468.1 57.5 L469.0 57.5 L470.0 57.5 L470.9 57.5 L471.8 57.5 L472.8 57.5 L473.7 57.4 L474.7 57.4 L475.6 57.4 L476.5 57.4 L477.5 57.4 L478.4 57.4 L479.4 57.4 L480.3 57.4 L481.2 57.4 L482.2 57.4 L483.1 57.4 L484.1 57.4" fill="none" stroke="#e5262c" stroke-width="1.4" stroke-linejoin="round" />
<path d="M360.9 139.5 L361.9 139.4 L362.8 139.4 L363.7 139.4 L364.7 139.3 L365.6 139.3 L366.6 139.2 L367.5 139.1 L368.4 139.1 L369.4 139.0 L370.3 138.9 L371.3 138.8 L372.2 138.7 L373.1 138.6 L374.1 138.5 L375.0 138.4 L376.0 138.3 L376.9 138.1 L377.8 138.0 L378.8 137.8 L379.7 137.6 L380.7 137.4 L381.6 137.1 L382.5 136.9 L383.5 136.6 L384.4 136.3 L385.4 136.0 L386.3 135.7 L387.2 135.3 L388.2 134.9 L389.1 134.4 L390.1 133.9 L391.0 133.4 L391.9 132.8 L392.9 132.2 L393.8 131.6 L394.8 130.9 L395.7 130.1 L396.6 129.3 L397.6 128.5 L398.5 127.6 L399.5 126.6 L400.4 125.6 L401.3 124.5 L402.3 123.3 L403.2 122.1 L404.2 120.8 L405.1 119.5 L406.0 118.1 L407.0 116.7 L407.9 115.2 L408.9 113.7 L409.8 112.1 L410.7 110.5 L411.7 108.8 L412.6 107.2 L413.6 105.5 L414.5 103.8 L415.4 102.1 L416.4 100.4 L417.3 98.7 L418.3 97.0 L419.2 95.4 L420.1 93.8 L421.1 92.2 L422.0 90.7 L423.0 89.2 L423.9 87.7 L424.8 86.4 L425.8 85.0 L426.7 83.8 L427.7 82.5 L428.6 81.4 L429.5 80.3 L430.5 79.3 L431.4 78.3 L432.4 77.4 L433.3 76.5 L434.2 75.7 L435.2 75.0 L436.1 74.3 L437.1 73.6 L438.0 73.0 L438.9 72.4 L439.9 71.9 L440.8 71.4 L441.8 71.0 L442.7 70.6 L443.6 70.2 L444.6 69.9 L445.5 69.5 L446.5 69.2 L447.4 69.0 L448.3 68.7 L449.3 68.5 L450.2 68.3 L451.2 68.1 L452.1 67.9 L453.0 67.7 L454.0 67.6 L454.9 67.5 L455.9 67.3 L456.8 67.2 L457.7 67.1 L458.7 67.0 L459.6 66.9 L460.6 66.8 L461.5 66.8 L462.4 66.7 L463.4 66.6 L464.3 66.6 L465.3 66.5 L466.2 66.5 L467.1 66.5 L468.1 66.4 L469.0 66.4 L470.0 66.3 L470.9 66.3 L471.8 66.3 L472.8 66.3 L473.7 66.2 L474.7 66.2 L475.6 66.2 L476.5 66.2 L477.5 66.2 L478.4 66.2 L479.4 66.1 L480.3 66.1 L481.2 66.1 L482.2 66.1 L483.1 66.1 L484.1 66.1" fill="none" stroke="#3d4ca4" stroke-width="1.4" stroke-linejoin="round" />
<path d="M360.9 139.1 L361.9 139.1 L362.8 139.0 L363.7 139.0 L364.7 138.9 L365.6 138.9 L366.6 138.8 L367.5 138.7 L368.4 138.7 L369.4 138.6 L370.3 138.4 L371.3 138.3 L372.2 138.2 L373.1 138.0 L374.1 137.8 L375.0 137.6 L376.0 137.4 L376.9 137.1 L377.8 136.8 L378.8 136.5 L379.7 136.1 L380.7 135.7 L381.6 135.2 L382.5 134.6 L383.5 134.0 L384.4 133.4 L385.4 132.6 L386.3 131.8 L387.2 130.9 L388.2 129.8 L389.1 128.7 L390.1 127.5 L391.0 126.2 L391.9 124.7 L392.9 123.1 L393.8 121.4 L394.8 119.6 L395.7 117.7 L396.6 115.7 L397.6 113.6 L398.5 111.4 L399.5 109.1 L400.4 106.8 L401.3 104.5 L402.3 102.1 L403.2 99.7 L404.2 97.4 L405.1 95.1 L406.0 92.9 L407.0 90.7 L407.9 88.7 L408.9 86.7 L409.8 84.8 L410.7 83.1 L411.7 81.5 L412.6 79.9 L413.6 78.5 L414.5 77.3 L415.4 76.1 L416.4 75.0 L417.3 74.0 L418.3 73.2 L419.2 72.4 L420.1 71.7 L421.1 71.0 L422.0 70.5 L423.0 70.0 L423.9 69.5 L424.8 69.1 L425.8 68.7 L426.7 68.4 L427.7 68.1 L428.6 67.9 L429.5 67.7 L430.5 67.5 L431.4 67.3 L432.4 67.1 L433.3 67.0 L434.2 66.9 L435.2 66.8 L436.1 66.7 L437.1 66.6 L438.0 66.5 L438.9 66.5 L439.9 66.4 L440.8 66.4 L441.8 66.3 L442.7 66.3 L443.6 66.3 L444.6 66.2 L445.5 66.2 L446.5 66.2 L447.4 66.2 L448.3 66.1 L449.3 66.1 L450.2 66.1 L451.2 66.1 L452.1 66.1 L453.0 66.1 L454.0 66.1 L454.9 66.1 L455.9 66.1 L456.8 66.1 L457.7 66.0 L458.7 66.0 L459.6 66.0 L460.6 66.0 L461.5 66.0 L462.4 66.0 L463.4 66.0 L464.3 66.0 L465.3 66.0 L466.2 66.0 L467.1 66.0 L468.1 66.0 L469.0 66.0 L470.0 66.0 L470.9 66.0 L471.8 66.0 L472.8 66.0 L473.7 66.0 L474.7 66.0 L475.6 66.0 L476.5 66.0 L477.5 66.0 L478.4 66.0 L479.4 66.0 L480.3 66.0 L481.2 66.0 L482.2 66.0 L483.1 66.0 L484.1 66.0" fill="none" stroke="#d25db4" stroke-width="1.4" stroke-linejoin="round" />
<path d="M360.9 139.1 L361.9 139.1 L362.8 139.0 L363.7 139.0 L364.7 138.9 L365.6 138.8 L366.6 138.7 L367.5 138.6 L368.4 138.5 L369.4 138.3 L370.3 138.1 L371.3 137.9 L372.2 137.7 L373.1 137.4 L374.1 137.1 L375.0 136.7 L376.0 136.2 L376.9 135.7 L377.8 135.2 L378.8 134.5 L379.7 133.7 L380.7 132.8 L381.6 131.8 L382.5 130.7 L383.5 129.4 L384.4 127.9 L385.4 126.3 L386.3 124.4 L387.2 122.4 L388.2 120.2 L389.1 117.8 L390.1 115.2 L391.0 112.4 L391.9 109.5 L392.9 106.4 L393.8 103.2 L394.8 100.0 L395.7 96.7 L396.6 93.4 L397.6 90.2 L398.5 87.1 L399.5 84.1 L400.4 81.2 L401.3 78.5 L402.3 76.0 L403.2 73.7 L404.2 71.6 L405.1 69.7 L406.0 67.9 L407.0 66.4 L407.9 65.0 L408.9 63.8 L409.8 62.7 L410.7 61.7 L411.7 60.9 L412.6 60.2 L413.6 59.6 L414.5 59.0 L415.4 58.5 L416.4 58.1 L417.3 57.8 L418.3 57.5 L419.2 57.2 L420.1 57.0 L421.1 56.8 L422.0 56.6 L423.0 56.5 L423.9 56.4 L424.8 56.3 L425.8 56.2 L426.7 56.1 L427.7 56.0 L428.6 56.0 L429.5 55.9 L430.5 55.9 L431.4 55.9 L432.4 55.8 L433.3 55.8 L434.2 55.8 L435.2 55.8 L436.1 55.7 L437.1 55.7 L438.0 55.7 L438.9 55.7 L439.9 55.7 L440.8 55.7 L441.8 55.7 L442.7 55.7 L443.6 55.7 L444.6 55.7 L445.5 55.7 L446.5 55.7 L447.4 55.7 L448.3 55.7 L449.3 55.7 L450.2 55.7 L451.2 55.7 L452.1 55.6 L453.0 55.6 L454.0 55.6 L454.9 55.6 L455.9 55.6 L456.8 55.6 L457.7 55.6 L458.7 55.6 L459.6 55.6 L460.6 55.6 L461.5 55.6 L462.4 55.6 L463.4 55.6 L464.3 55.6 L465.3 55.6 L466.2 55.6 L467.1 55.6 L468.1 55.6 L469.0 55.6 L470.0 55.6 L470.9 55.6 L471.8 55.6 L472.8 55.6 L473.7 55.6 L474.7 55.6 L475.6 55.6 L476.5 55.6 L477.5 55.6 L478.4 55.6 L479.4 55.6 L480.3 55.6 L481.2 55.6 L482.2 55.6 L483.1 55.6 L484.1 55.6" fill="none" stroke="#27966a" stroke-width="1.4" stroke-linejoin="round" />
<rect x="359.0" y="136.8" width="4.8" height="4.8" fill="#e5262c"/>
<rect x="370.3" y="137.1" width="4.8" height="4.8" fill="#e5262c"/>
<rect x="377.6" y="136.1" width="4.8" height="4.8" fill="#e5262c"/>
<rect x="389.1" y="133.4" width="4.8" height="4.8" fill="#e5262c"/>
<rect x="397.3" y="125.5" width="4.8" height="4.8" fill="#e5262c"/>
<rect x="406.7" y="108.6" width="4.8" height="4.8" fill="#e5262c"/>
<rect x="416.1" y="85.6" width="4.8" height="4.8" fill="#e5262c"/>
<rect x="426.7" y="70.8" width="4.8" height="4.8" fill="#e5262c"/>
<path d="M437.3 63.7V68.4M434.7 63.7H439.9M434.7 68.4H439.9" stroke="#e5262c" stroke-width="1.4" fill="none"/>
<rect x="434.9" y="63.6" width="4.8" height="4.8" fill="#e5262c"/>
<path d="M446.2 47.5V55.3M443.6 47.5H448.8M443.6 55.3H448.8" stroke="#e5262c" stroke-width="1.4" fill="none"/>
<rect x="443.8" y="49.0" width="4.8" height="4.8" fill="#e5262c"/>
<path d="M455.9 53.4V59.7M453.3 53.4H458.5M453.3 59.7H458.5" stroke="#e5262c" stroke-width="1.4" fill="none"/>
<rect x="453.5" y="54.2" width="4.8" height="4.8" fill="#e5262c"/>
<path d="M463.1 45.6V55.0M460.5 45.6H465.8M460.5 55.0H465.8" stroke="#e5262c" stroke-width="1.4" fill="none"/>
<rect x="460.8" y="47.9" width="4.8" height="4.8" fill="#e5262c"/>
<path d="M474.0 56.6V59.7M471.4 56.6H476.6M471.4 59.7H476.6" stroke="#e5262c" stroke-width="1.4" fill="none"/>
<rect x="471.6" y="55.8" width="4.8" height="4.8" fill="#e5262c"/>
<path d="M484.3 58.6V64.9M481.7 58.6H486.9M481.7 64.9H486.9" stroke="#e5262c" stroke-width="1.4" fill="none"/>
<rect x="481.9" y="59.4" width="4.8" height="4.8" fill="#e5262c"/>
<path d="M361.4 137.0L364.3 142.2L358.5 142.2Z" fill="#3d4ca4"/>
<path d="M372.7 134.4L375.6 139.6L369.8 139.6Z" fill="#3d4ca4"/>
<path d="M380.0 135.9L382.9 141.2L377.1 141.2Z" fill="#3d4ca4"/>
<path d="M391.5 131.2L394.4 136.4L388.6 136.4Z" fill="#3d4ca4"/>
<path d="M399.7 124.3L402.6 129.5L396.8 129.5Z" fill="#3d4ca4"/>
<path d="M409.1 111.6L412.0 116.9L406.2 116.9Z" fill="#3d4ca4"/>
<path d="M418.5 94.5L421.4 99.7L415.6 99.7Z" fill="#3d4ca4"/>
<path d="M429.1 77.6L432.0 82.8L426.2 82.8Z" fill="#3d4ca4"/>
<path d="M437.3 69.5V72.6M434.7 69.5H439.9M434.7 72.6H439.9" stroke="#3d4ca4" stroke-width="1.4" fill="none"/>
<path d="M437.3 68.1L440.2 73.4L434.4 73.4Z" fill="#3d4ca4"/>
<path d="M446.2 68.4V71.5M443.6 68.4H448.8M443.6 71.5H448.8" stroke="#3d4ca4" stroke-width="1.4" fill="none"/>
<path d="M446.2 67.0L449.1 72.3L443.3 72.3Z" fill="#3d4ca4"/>
<path d="M455.9 66.6V80.8M453.3 66.6H458.5M453.3 80.8H458.5" stroke="#3d4ca4" stroke-width="1.4" fill="none"/>
<path d="M455.9 70.8L458.8 76.0L453.0 76.0Z" fill="#3d4ca4"/>
<path d="M463.1 64.4V67.6M460.5 64.4H465.8M460.5 67.6H465.8" stroke="#3d4ca4" stroke-width="1.4" fill="none"/>
<path d="M463.1 63.1L466.0 68.3L460.2 68.3Z" fill="#3d4ca4"/>
<path d="M474.0 72.5L476.9 77.8L471.1 77.8Z" fill="#3d4ca4"/>
<path d="M484.3 68.7V71.8M481.7 68.7H486.9M481.7 71.8H486.9" stroke="#3d4ca4" stroke-width="1.4" fill="none"/>
<path d="M484.3 67.4L487.2 72.6L481.4 72.6Z" fill="#3d4ca4"/>
<circle cx="361.4" cy="140.1" r="2.6" fill="#d25db4"/>
<circle cx="372.7" cy="138.2" r="2.6" fill="#d25db4"/>
<circle cx="380.0" cy="137.8" r="2.6" fill="#d25db4"/>
<circle cx="391.5" cy="123.8" r="2.6" fill="#d25db4"/>
<circle cx="399.7" cy="109.0" r="2.6" fill="#d25db4"/>
<circle cx="409.1" cy="84.6" r="2.6" fill="#d25db4"/>
<path d="M418.5 71.7V74.8M415.9 71.7H421.1M415.9 74.8H421.1" stroke="#d25db4" stroke-width="1.4" fill="none"/>
<circle cx="418.5" cy="73.2" r="2.6" fill="#d25db4"/>
<path d="M429.1 64.0V67.1M426.5 64.0H431.7M426.5 67.1H431.7" stroke="#d25db4" stroke-width="1.4" fill="none"/>
<circle cx="429.1" cy="65.5" r="2.6" fill="#d25db4"/>
<path d="M437.3 63.5V66.6M434.7 63.5H439.9M434.7 66.6H439.9" stroke="#d25db4" stroke-width="1.4" fill="none"/>
<circle cx="437.3" cy="65.1" r="2.6" fill="#d25db4"/>
<path d="M446.2 65.4V68.5M443.6 65.4H448.8M443.6 68.5H448.8" stroke="#d25db4" stroke-width="1.4" fill="none"/>
<circle cx="446.2" cy="67.0" r="2.6" fill="#d25db4"/>
<path d="M455.9 62.9V66.0M453.3 62.9H458.5M453.3 66.0H458.5" stroke="#d25db4" stroke-width="1.4" fill="none"/>
<circle cx="455.9" cy="64.4" r="2.6" fill="#d25db4"/>
<path d="M463.1 66.3V69.5M460.5 66.3H465.8M460.5 69.5H465.8" stroke="#d25db4" stroke-width="1.4" fill="none"/>
<circle cx="463.1" cy="67.9" r="2.6" fill="#d25db4"/>
<path d="M474.0 66.0V69.2M471.4 66.0H476.6M471.4 69.2H476.6" stroke="#d25db4" stroke-width="1.4" fill="none"/>
<circle cx="474.0" cy="67.6" r="2.6" fill="#d25db4"/>
<path d="M484.3 66.3V69.5M481.7 66.3H486.9M481.7 69.5H486.9" stroke="#d25db4" stroke-width="1.4" fill="none"/>
<circle cx="484.3" cy="67.9" r="2.6" fill="#d25db4"/>
<path d="M361.4 141.3L364.3 136.1L358.5 136.1Z" fill="#27966a"/>
<path d="M372.7 139.8L375.6 134.6L369.8 134.6Z" fill="#27966a"/>
<path d="M380.0 136.5L382.9 131.3L377.1 131.3Z" fill="#27966a"/>
<path d="M391.5 112.2L394.4 106.9L388.6 106.9Z" fill="#27966a"/>
<path d="M399.7 87.7L402.6 82.5L396.8 82.5Z" fill="#27966a"/>
<path d="M409.1 65.7L412.0 60.5L406.2 60.5Z" fill="#27966a"/>
<path d="M418.5 39.1V50.1M415.9 39.1H421.1M415.9 50.1H421.1" stroke="#27966a" stroke-width="1.4" fill="none"/>
<path d="M418.5 47.5L421.4 42.3L415.6 42.3Z" fill="#27966a"/>
<path d="M429.1 47.9V55.8M426.5 47.9H431.7M426.5 55.8H431.7" stroke="#27966a" stroke-width="1.4" fill="none"/>
<path d="M429.1 54.8L432.0 49.6L426.2 49.6Z" fill="#27966a"/>
<path d="M437.3 55.0V58.2M434.7 55.0H439.9M434.7 58.2H439.9" stroke="#27966a" stroke-width="1.4" fill="none"/>
<path d="M437.3 59.5L440.2 54.3L434.4 54.3Z" fill="#27966a"/>
<path d="M446.2 58.7L449.1 53.5L443.3 53.5Z" fill="#27966a"/>
<path d="M455.9 47.4L458.8 42.2L453.0 42.2Z" fill="#27966a"/>
<path d="M463.1 51.7V56.4M460.5 51.7H465.8M460.5 56.4H465.8" stroke="#27966a" stroke-width="1.4" fill="none"/>
<path d="M463.1 57.0L466.0 51.8L460.2 51.8Z" fill="#27966a"/>
<path d="M474.0 59.7V62.9M471.4 59.7H476.6M471.4 62.9H476.6" stroke="#27966a" stroke-width="1.4" fill="none"/>
<path d="M474.0 64.2L476.9 59.0L471.1 59.0Z" fill="#27966a"/>
<path d="M484.3 63.5V66.6M481.7 63.5H486.9M481.7 66.6H486.9" stroke="#27966a" stroke-width="1.4" fill="none"/>
<path d="M484.3 68.0L487.2 62.7L481.4 62.7Z" fill="#27966a"/>
<path d="M51.5 231.5V352.1" stroke="#2a2a2a" stroke-width="1.3" fill="none"/>
<path d="M51.0 351.6H230.5" stroke="#2a2a2a" stroke-width="1.3" fill="none"/>
<path d="M47.5 243H51.5" stroke="#2a2a2a" stroke-width="1.3"/>
<text x="47.0" y="246.1" font-size="8.6" font-weight="bold" text-anchor="end" fill="#222" >100</text>
<path d="M47.5 297.3H51.5" stroke="#2a2a2a" stroke-width="1.3"/>
<text x="47.0" y="300.40000000000003" font-size="8.6" font-weight="bold" text-anchor="end" fill="#222" >50</text>
<path d="M47.5 351.6H51.5" stroke="#2a2a2a" stroke-width="1.3"/>
<text x="47.0" y="354.70000000000005" font-size="8.6" font-weight="bold" text-anchor="end" fill="#222" >0</text>
<path d="M52 351.6V355.6" stroke="#2a2a2a" stroke-width="1.3"/>
<text x="52" y="364.6" font-size="8.6" font-weight="bold" text-anchor="middle" fill="#222" >0</text>
<path d="M111.3 351.6V355.6" stroke="#2a2a2a" stroke-width="1.3"/>
<text x="111.3" y="364.6" font-size="8.6" font-weight="bold" text-anchor="middle" fill="#222" >20</text>
<path d="M170.6 351.6V355.6" stroke="#2a2a2a" stroke-width="1.3"/>
<text x="170.6" y="364.6" font-size="8.6" font-weight="bold" text-anchor="middle" fill="#222" >40</text>
<path d="M230 351.6V355.6" stroke="#2a2a2a" stroke-width="1.3"/>
<text x="230" y="364.6" font-size="8.6" font-weight="bold" text-anchor="middle" fill="#222" >60</text>
<text x="142" y="378.4" font-size="10.5" font-weight="bold" text-anchor="middle" fill="#222" textLength="47.5" lengthAdjust="spacingAndGlyphs" >Time (min)</text>
<text x="0" y="0" font-size="10.5" font-weight="bold" text-anchor="middle" fill="#222" textLength="61.4" lengthAdjust="spacingAndGlyphs" transform="translate(27.2,289) rotate(-90)">% Dissociated</text>
<text x="1.5" y="206.6" font-size="12.5" font-weight="bold" text-anchor="start" fill="#111" >C</text>
<path d="M53.8 342.3L56.7 345.7L53.8 349.1L50.8 345.7Z" fill="#1b1b1b"/>
<path d="M56.7 332.7L59.7 336.1L56.7 339.5L53.8 336.1Z" fill="#1b1b1b"/>
<path d="M59.7 323.0L62.7 326.4L59.7 329.9L56.7 326.4Z" fill="#1b1b1b"/>
<path d="M62.7 316.8L65.6 320.3L62.7 323.7L59.7 320.3Z" fill="#1b1b1b"/>
<path d="M65.6 309.7L68.6 313.1L65.6 316.5L62.7 313.1Z" fill="#1b1b1b"/>
<path d="M68.6 303.1L71.6 306.5L68.6 309.9L65.6 306.5Z" fill="#1b1b1b"/>
<path d="M71.6 298.6L74.5 302.0L71.6 305.5L68.6 302.0Z" fill="#1b1b1b"/>
<path d="M74.5 292.3L77.5 295.7L74.5 299.1L71.6 295.7Z" fill="#1b1b1b"/>
<path d="M77.5 287.1L80.5 290.6L77.5 294.0L74.5 290.6Z" fill="#1b1b1b"/>
<path d="M80.5 282.3L83.4 285.7L80.5 289.1L77.5 285.7Z" fill="#1b1b1b"/>
<path d="M83.4 280.6L86.4 284.0L83.4 287.4L80.5 284.0Z" fill="#1b1b1b"/>
<path d="M86.4 276.3L89.4 279.7L86.4 283.1L83.4 279.7Z" fill="#1b1b1b"/>
<path d="M89.4 273.7L92.3 277.1L89.4 280.6L86.4 277.1Z" fill="#1b1b1b"/>
<path d="M92.3 268.4L95.3 271.8L92.3 275.2L89.4 271.8Z" fill="#1b1b1b"/>
<path d="M95.3 266.1L98.3 269.5L95.3 272.9L92.3 269.5Z" fill="#1b1b1b"/>
<path d="M98.3 265.8L101.2 269.2L98.3 272.6L95.3 269.2Z" fill="#1b1b1b"/>
<path d="M103.0 259.2L106.0 262.6L103.0 266.0L100.0 262.6Z" fill="#1b1b1b"/>
<path d="M107.7 256.3L110.7 259.7L107.7 263.1L104.8 259.7Z" fill="#1b1b1b"/>
<path d="M112.5 254.7L115.5 258.1L112.5 261.5L109.5 258.1Z" fill="#1b1b1b"/>
<path d="M117.2 252.6L120.2 256.1L117.2 259.5L114.3 256.1Z" fill="#1b1b1b"/>
<path d="M122.0 252.2L124.9 255.7L122.0 259.1L119.0 255.7Z" fill="#1b1b1b"/>
<path d="M126.7 251.1L129.7 254.5L126.7 258.0L123.7 254.5Z" fill="#1b1b1b"/>
<path d="M131.5 248.0L134.4 251.4L131.5 254.8L128.5 251.4Z" fill="#1b1b1b"/>
<path d="M136.2 249.1L139.2 252.5L136.2 255.9L133.2 252.5Z" fill="#1b1b1b"/>
<circle cx="53.8" cy="346.7" r="2.3" fill="#d25db4"/>
<circle cx="56.7" cy="338.9" r="2.3" fill="#d25db4"/>
<circle cx="59.7" cy="331.8" r="2.3" fill="#d25db4"/>
<circle cx="62.7" cy="326.6" r="2.3" fill="#d25db4"/>
<circle cx="65.6" cy="320.6" r="2.3" fill="#d25db4"/>
<circle cx="68.6" cy="314.4" r="2.3" fill="#d25db4"/>
<circle cx="71.6" cy="310.2" r="2.3" fill="#d25db4"/>
<circle cx="74.5" cy="301.0" r="2.3" fill="#d25db4"/>
<circle cx="77.5" cy="298.6" r="2.3" fill="#d25db4"/>
<circle cx="80.5" cy="291.5" r="2.3" fill="#d25db4"/>
<circle cx="83.4" cy="290.6" r="2.3" fill="#d25db4"/>
<circle cx="86.4" cy="283.1" r="2.3" fill="#d25db4"/>
<circle cx="89.4" cy="280.5" r="2.3" fill="#d25db4"/>
<circle cx="92.3" cy="283.5" r="2.3" fill="#d25db4"/>
<circle cx="95.3" cy="279.3" r="2.3" fill="#d25db4"/>
<circle cx="98.3" cy="271.4" r="2.3" fill="#d25db4"/>
<circle cx="103.0" cy="271.1" r="2.3" fill="#d25db4"/>
<circle cx="107.7" cy="263.6" r="2.3" fill="#d25db4"/>
<circle cx="112.5" cy="265.8" r="2.3" fill="#d25db4"/>
<circle cx="117.2" cy="266.3" r="2.3" fill="#d25db4"/>
<circle cx="122.0" cy="259.1" r="2.3" fill="#d25db4"/>
<circle cx="126.7" cy="255.7" r="2.3" fill="#d25db4"/>
<circle cx="131.5" cy="259.2" r="2.3" fill="#d25db4"/>
<circle cx="136.2" cy="259.8" r="2.3" fill="#d25db4"/>
<circle cx="141.0" cy="256.0" r="2.3" fill="#d25db4"/>
<circle cx="145.7" cy="248.1" r="2.3" fill="#d25db4"/>
<circle cx="150.4" cy="249.4" r="2.3" fill="#d25db4"/>
<circle cx="155.2" cy="255.5" r="2.3" fill="#d25db4"/>
<circle cx="159.9" cy="253.4" r="2.3" fill="#d25db4"/>
<circle cx="164.7" cy="254.3" r="2.3" fill="#d25db4"/>
<circle cx="169.4" cy="254.2" r="2.3" fill="#d25db4"/>
<circle cx="174.2" cy="245.8" r="2.3" fill="#d25db4"/>
<circle cx="178.9" cy="252.1" r="2.3" fill="#d25db4"/>
<circle cx="183.6" cy="247.6" r="2.3" fill="#d25db4"/>
<circle cx="188.4" cy="248.5" r="2.3" fill="#d25db4"/>
<circle cx="193.1" cy="251.0" r="2.3" fill="#d25db4"/>
<circle cx="197.9" cy="244.9" r="2.3" fill="#d25db4"/>
<rect x="51.6" y="345.2" width="4.3" height="4.3" fill="#e5262c"/>
<rect x="54.6" y="333.8" width="4.3" height="4.3" fill="#e5262c"/>
<rect x="57.5" y="328.0" width="4.3" height="4.3" fill="#e5262c"/>
<rect x="60.5" y="318.9" width="4.3" height="4.3" fill="#e5262c"/>
<rect x="63.5" y="313.2" width="4.3" height="4.3" fill="#e5262c"/>
<rect x="66.4" y="306.6" width="4.3" height="4.3" fill="#e5262c"/>
<rect x="69.4" y="296.9" width="4.3" height="4.3" fill="#e5262c"/>
<rect x="72.4" y="292.6" width="4.3" height="4.3" fill="#e5262c"/>
<rect x="75.3" y="290.9" width="4.3" height="4.3" fill="#e5262c"/>
<rect x="78.3" y="282.8" width="4.3" height="4.3" fill="#e5262c"/>
<rect x="81.3" y="283.3" width="4.3" height="4.3" fill="#e5262c"/>
<rect x="84.2" y="278.5" width="4.3" height="4.3" fill="#e5262c"/>
<rect x="87.2" y="272.0" width="4.3" height="4.3" fill="#e5262c"/>
<rect x="90.2" y="270.5" width="4.3" height="4.3" fill="#e5262c"/>
<rect x="93.1" y="271.8" width="4.3" height="4.3" fill="#e5262c"/>
<rect x="96.1" y="262.5" width="4.3" height="4.3" fill="#e5262c"/>
<rect x="100.8" y="265.1" width="4.3" height="4.3" fill="#e5262c"/>
<rect x="105.6" y="261.8" width="4.3" height="4.3" fill="#e5262c"/>
<rect x="110.3" y="254.7" width="4.3" height="4.3" fill="#e5262c"/>
<rect x="115.1" y="256.4" width="4.3" height="4.3" fill="#e5262c"/>
<rect x="119.8" y="254.9" width="4.3" height="4.3" fill="#e5262c"/>
<rect x="124.6" y="255.5" width="4.3" height="4.3" fill="#e5262c"/>
<rect x="129.3" y="254.0" width="4.3" height="4.3" fill="#e5262c"/>
<rect x="134.0" y="247.7" width="4.3" height="4.3" fill="#e5262c"/>
<rect x="138.8" y="250.3" width="4.3" height="4.3" fill="#e5262c"/>
<rect x="143.5" y="245.5" width="4.3" height="4.3" fill="#e5262c"/>
<rect x="148.3" y="247.2" width="4.3" height="4.3" fill="#e5262c"/>
<rect x="153.0" y="245.6" width="4.3" height="4.3" fill="#e5262c"/>
<rect x="157.8" y="239.5" width="4.3" height="4.3" fill="#e5262c"/>
<rect x="162.5" y="244.2" width="4.3" height="4.3" fill="#e5262c"/>
<rect x="167.3" y="242.8" width="4.3" height="4.3" fill="#e5262c"/>
<rect x="172.0" y="239.2" width="4.3" height="4.3" fill="#e5262c"/>
<rect x="176.7" y="246.3" width="4.3" height="4.3" fill="#e5262c"/>
<rect x="181.5" y="246.3" width="4.3" height="4.3" fill="#e5262c"/>
<rect x="186.2" y="237.9" width="4.3" height="4.3" fill="#e5262c"/>
<rect x="191.0" y="238.7" width="4.3" height="4.3" fill="#e5262c"/>
<rect x="195.7" y="244.7" width="4.3" height="4.3" fill="#e5262c"/>
<path d="M53.8 348.4L56.4 343.7L51.2 343.7Z" fill="#27966a"/>
<path d="M56.7 336.4L59.4 331.7L54.1 331.7Z" fill="#27966a"/>
<path d="M59.7 326.8L62.3 322.1L57.1 322.1Z" fill="#27966a"/>
<path d="M62.7 322.7L65.3 318.0L60.1 318.0Z" fill="#27966a"/>
<path d="M65.6 311.6L68.2 306.9L63.0 306.9Z" fill="#27966a"/>
<path d="M68.6 305.5L71.2 300.8L66.0 300.8Z" fill="#27966a"/>
<path d="M71.6 301.2L74.2 296.5L69.0 296.5Z" fill="#27966a"/>
<path d="M74.5 297.0L77.1 292.3L71.9 292.3Z" fill="#27966a"/>
<path d="M77.5 294.1L80.1 289.4L74.9 289.4Z" fill="#27966a"/>
<path d="M80.5 290.3L83.1 285.6L77.9 285.6Z" fill="#27966a"/>
<path d="M83.4 280.3L86.0 275.6L80.8 275.6Z" fill="#27966a"/>
<path d="M86.4 281.6L89.0 276.9L83.8 276.9Z" fill="#27966a"/>
<path d="M89.4 275.1L92.0 270.4L86.7 270.4Z" fill="#27966a"/>
<path d="M92.3 275.3L94.9 270.6L89.7 270.6Z" fill="#27966a"/>
<path d="M95.3 268.4L97.9 263.7L92.7 263.7Z" fill="#27966a"/>
<path d="M98.3 267.7L100.9 263.0L95.6 263.0Z" fill="#27966a"/>
<path d="M103.0 266.7L105.6 262.0L100.4 262.0Z" fill="#27966a"/>
<path d="M107.7 264.8L110.4 260.1L105.1 260.1Z" fill="#27966a"/>
<path d="M112.5 257.6L115.1 252.9L109.9 252.9Z" fill="#27966a"/>
<path d="M117.2 261.3L119.8 256.6L114.6 256.6Z" fill="#27966a"/>
<path d="M122.0 258.1L124.6 253.4L119.4 253.4Z" fill="#27966a"/>
<path d="M126.7 253.4L129.3 248.7L124.1 248.7Z" fill="#27966a"/>
<path d="M131.5 249.0L134.1 244.3L128.9 244.3Z" fill="#27966a"/>
<path d="M136.2 250.2L138.8 245.5L133.6 245.5Z" fill="#27966a"/>
<path d="M141.0 252.8L143.6 248.1L138.3 248.1Z" fill="#27966a"/>
<path d="M145.7 245.1L148.3 240.4L143.1 240.4Z" fill="#27966a"/>
<path d="M150.4 252.1L153.0 247.4L147.8 247.4Z" fill="#27966a"/>
<path d="M155.2 253.5L157.8 248.8L152.6 248.8Z" fill="#27966a"/>
<path d="M159.9 250.2L162.5 245.5L157.3 245.5Z" fill="#27966a"/>
<path d="M164.7 247.8L167.3 243.1L162.1 243.1Z" fill="#27966a"/>
<path d="M169.4 251.6L172.0 246.9L166.8 246.9Z" fill="#27966a"/>
<path d="M174.2 250.0L176.8 245.3L171.5 245.3Z" fill="#27966a"/>
<path d="M178.9 247.7L181.5 243.0L176.3 243.0Z" fill="#27966a"/>
<path d="M183.6 245.2L186.3 240.5L181.0 240.5Z" fill="#27966a"/>
<path d="M188.4 249.8L191.0 245.1L185.8 245.1Z" fill="#27966a"/>
<path d="M193.1 247.1L195.7 242.4L190.5 242.4Z" fill="#27966a"/>
<path d="M197.9 241.2L200.5 236.5L195.3 236.5Z" fill="#27966a"/>
<path d="M53.8 338.9L56.4 343.6L51.2 343.6Z" fill="#3d4ca4"/>
<path d="M56.7 330.6L59.4 335.3L54.1 335.3Z" fill="#3d4ca4"/>
<path d="M59.7 321.6L62.3 326.3L57.1 326.3Z" fill="#3d4ca4"/>
<path d="M62.7 314.1L65.3 318.8L60.1 318.8Z" fill="#3d4ca4"/>
<path d="M65.6 309.2L68.2 313.9L63.0 313.9Z" fill="#3d4ca4"/>
<path d="M68.6 303.4L71.2 308.1L66.0 308.1Z" fill="#3d4ca4"/>
<path d="M71.6 297.7L74.2 302.4L69.0 302.4Z" fill="#3d4ca4"/>
<path d="M74.5 287.1L77.1 291.8L71.9 291.8Z" fill="#3d4ca4"/>
<path d="M77.5 283.5L80.1 288.2L74.9 288.2Z" fill="#3d4ca4"/>
<path d="M80.5 277.4L83.1 282.1L77.9 282.1Z" fill="#3d4ca4"/>
<path d="M83.4 279.6L86.0 284.3L80.8 284.3Z" fill="#3d4ca4"/>
<path d="M86.4 271.9L89.0 276.6L83.8 276.6Z" fill="#3d4ca4"/>
<path d="M89.4 269.7L92.0 274.4L86.7 274.4Z" fill="#3d4ca4"/>
<path d="M92.3 265.0L94.9 269.7L89.7 269.7Z" fill="#3d4ca4"/>
<path d="M95.3 265.3L97.9 270.0L92.7 270.0Z" fill="#3d4ca4"/>
<path d="M98.3 257.7L100.9 262.4L95.6 262.4Z" fill="#3d4ca4"/>
<path d="M103.0 261.6L105.6 266.3L100.4 266.3Z" fill="#3d4ca4"/>
<path d="M107.7 254.9L110.4 259.6L105.1 259.6Z" fill="#3d4ca4"/>
<path d="M112.5 250.8L115.1 255.5L109.9 255.5Z" fill="#3d4ca4"/>
<path d="M117.2 247.1L119.8 251.8L114.6 251.8Z" fill="#3d4ca4"/>
<path d="M122.0 246.8L124.6 251.5L119.4 251.5Z" fill="#3d4ca4"/>
<path d="M126.7 245.5L129.3 250.2L124.1 250.2Z" fill="#3d4ca4"/>
<path d="M131.5 243.2L134.1 247.9L128.9 247.9Z" fill="#3d4ca4"/>
<path d="M136.2 240.7L138.8 245.4L133.6 245.4Z" fill="#3d4ca4"/>
<path d="M141.0 245.8L143.6 250.5L138.3 250.5Z" fill="#3d4ca4"/>
<path d="M145.7 241.4L148.3 246.1L143.1 246.1Z" fill="#3d4ca4"/>
<path d="M150.4 238.3L153.0 243.0L147.8 243.0Z" fill="#3d4ca4"/>
<path d="M155.2 238.1L157.8 242.8L152.6 242.8Z" fill="#3d4ca4"/>
<path d="M159.9 242.5L162.5 247.2L157.3 247.2Z" fill="#3d4ca4"/>
<path d="M164.7 238.0L167.3 242.7L162.1 242.7Z" fill="#3d4ca4"/>
<path d="M169.4 236.9L172.0 241.6L166.8 241.6Z" fill="#3d4ca4"/>
<path d="M174.2 239.7L176.8 244.4L171.5 244.4Z" fill="#3d4ca4"/>
<path d="M178.9 238.9L181.5 243.6L176.3 243.6Z" fill="#3d4ca4"/>
<path d="M183.6 241.3L186.3 246.0L181.0 246.0Z" fill="#3d4ca4"/>
<path d="M188.4 239.0L191.0 243.7L185.8 243.7Z" fill="#3d4ca4"/>
<path d="M193.1 238.5L195.7 243.2L190.5 243.2Z" fill="#3d4ca4"/>
<path d="M197.9 244.1L200.5 248.8L195.3 248.8Z" fill="#3d4ca4"/>
<path d="M52.0 351.6 L53.5 346.6 L55.0 341.8 L56.4 337.2 L57.9 332.8 L59.4 328.6 L60.9 324.7 L62.4 320.9 L63.9 317.3 L65.3 313.8 L66.8 310.5 L68.3 307.4 L69.8 304.4 L71.3 301.6 L72.8 298.9 L74.2 296.3 L75.7 293.8 L77.2 291.4 L78.7 289.2 L80.2 287.0 L81.7 285.0 L83.1 283.1 L84.6 281.2 L86.1 279.4 L87.6 277.7 L89.1 276.1 L90.5 274.6 L92.0 273.1 L93.5 271.7 L95.0 270.4 L96.5 269.1 L98.0 267.9 L99.4 266.8 L100.9 265.7 L102.4 264.6 L103.9 263.6 L105.4 262.6 L106.9 261.7 L108.3 260.9 L109.8 260.0 L111.3 259.2 L112.8 258.5 L114.3 257.8 L115.7 257.1 L117.2 256.4 L118.7 255.8 L120.2 255.2 L121.7 254.6 L123.2 254.1 L124.6 253.6 L126.1 253.1 L127.6 252.6 L129.1 252.2 L130.6 251.8 L132.1 251.4 L133.5 251.0 L135.0 250.6 L136.5 250.2 L138.0 249.9 L139.5 249.6 L140.9 249.3 L142.4 249.0 L143.9 248.7 L145.4 248.4 L146.9 248.2 L148.4 248.0 L149.8 247.7 L151.3 247.5 L152.8 247.3 L154.3 247.1 L155.8 246.9 L157.3 246.7 L158.7 246.6 L160.2 246.4 L161.7 246.2 L163.2 246.1 L164.7 245.9 L166.2 245.8 L167.6 245.7 L169.1 245.5 L170.6 245.4 L172.1 245.3 L173.6 245.2 L175.0 245.1 L176.5 245.0 L178.0 244.9 L179.5 244.8 L181.0 244.7 L182.5 244.7 L183.9 244.6 L185.4 244.5 L186.9 244.4 L188.4 244.4 L189.9 244.3 L191.4 244.2 L192.8 244.2 L194.3 244.1 L195.8 244.1 L197.3 244.0 L198.8 244.0 L200.2 243.9" fill="none" stroke="#1b1b1b" stroke-width="1.2" stroke-linejoin="round" />
<path d="M52.0 351.6 L53.5 347.1 L55.0 342.8 L56.4 338.6 L57.9 334.6 L59.4 330.8 L60.9 327.2 L62.4 323.7 L63.9 320.3 L65.3 317.1 L66.8 314.0 L68.3 311.0 L69.8 308.2 L71.3 305.5 L72.8 302.9 L74.2 300.4 L75.7 298.0 L77.2 295.7 L78.7 293.5 L80.2 291.4 L81.7 289.4 L83.1 287.5 L84.6 285.6 L86.1 283.9 L87.6 282.2 L89.1 280.5 L90.5 279.0 L92.0 277.5 L93.5 276.0 L95.0 274.7 L96.5 273.3 L98.0 272.1 L99.4 270.9 L100.9 269.7 L102.4 268.6 L103.9 267.5 L105.4 266.5 L106.9 265.5 L108.3 264.6 L109.8 263.7 L111.3 262.8 L112.8 262.0 L114.3 261.2 L115.7 260.5 L117.2 259.7 L118.7 259.0 L120.2 258.4 L121.7 257.7 L123.2 257.1 L124.6 256.5 L126.1 256.0 L127.6 255.4 L129.1 254.9 L130.6 254.4 L132.1 253.9 L133.5 253.5 L135.0 253.1 L136.5 252.6 L138.0 252.2 L139.5 251.8 L140.9 251.5 L142.4 251.1 L143.9 250.8 L145.4 250.5 L146.9 250.2 L148.4 249.9 L149.8 249.6 L151.3 249.3 L152.8 249.0 L154.3 248.8 L155.8 248.5 L157.3 248.3 L158.7 248.1 L160.2 247.9 L161.7 247.7 L163.2 247.5 L164.7 247.3 L166.2 247.1 L167.6 246.9 L169.1 246.8 L170.6 246.6 L172.1 246.5 L173.6 246.3 L175.0 246.2 L176.5 246.1 L178.0 245.9 L179.5 245.8 L181.0 245.7 L182.5 245.6 L183.9 245.5 L185.4 245.4 L186.9 245.3 L188.4 245.2 L189.9 245.1 L191.4 245.0 L192.8 244.9 L194.3 244.8 L195.8 244.8 L197.3 244.7 L198.8 244.6 L200.2 244.5" fill="none" stroke="#d25db4" stroke-width="1.2" stroke-linejoin="round" />
<path d="M52.0 351.6 L53.5 346.7 L55.0 342.0 L56.4 337.5 L57.9 333.2 L59.4 329.1 L60.9 325.2 L62.4 321.4 L63.9 317.9 L65.3 314.5 L66.8 311.2 L68.3 308.1 L69.8 305.2 L71.3 302.3 L72.8 299.6 L74.2 297.1 L75.7 294.6 L77.2 292.3 L78.7 290.0 L80.2 287.9 L81.7 285.8 L83.1 283.9 L84.6 282.0 L86.1 280.3 L87.6 278.6 L89.1 277.0 L90.5 275.4 L92.0 273.9 L93.5 272.5 L95.0 271.2 L96.5 269.9 L98.0 268.7 L99.4 267.5 L100.9 266.4 L102.4 265.3 L103.9 264.3 L105.4 263.4 L106.9 262.4 L108.3 261.6 L109.8 260.7 L111.3 259.9 L112.8 259.1 L114.3 258.4 L115.7 257.7 L117.2 257.0 L118.7 256.4 L120.2 255.8 L121.7 255.2 L123.2 254.7 L124.6 254.1 L126.1 253.6 L127.6 253.1 L129.1 252.7 L130.6 252.2 L132.1 251.8 L133.5 251.4 L135.0 251.0 L136.5 250.7 L138.0 250.3 L139.5 250.0 L140.9 249.7 L142.4 249.4 L143.9 249.1 L145.4 248.8 L146.9 248.5 L148.4 248.3 L149.8 248.0 L151.3 247.8 L152.8 247.6 L154.3 247.4 L155.8 247.2 L157.3 247.0 L158.7 246.8 L160.2 246.6 L161.7 246.5 L163.2 246.3 L164.7 246.2 L166.2 246.0 L167.6 245.9 L169.1 245.8 L170.6 245.6 L172.1 245.5 L173.6 245.4 L175.0 245.3 L176.5 245.2 L178.0 245.1 L179.5 245.0 L181.0 244.9 L182.5 244.8 L183.9 244.7 L185.4 244.7 L186.9 244.6 L188.4 244.5 L189.9 244.4 L191.4 244.4 L192.8 244.3 L194.3 244.3 L195.8 244.2 L197.3 244.1 L198.8 244.1 L200.2 244.0" fill="none" stroke="#e5262c" stroke-width="1.2" stroke-linejoin="round" />
<path d="M52.0 351.6 L53.5 346.5 L55.0 341.6 L56.4 336.9 L57.9 332.4 L59.4 328.2 L60.9 324.2 L62.4 320.3 L63.9 316.7 L65.3 313.2 L66.8 309.9 L68.3 306.7 L69.8 303.7 L71.3 300.8 L72.8 298.1 L74.2 295.5 L75.7 293.0 L77.2 290.6 L78.7 288.4 L80.2 286.2 L81.7 284.2 L83.1 282.2 L84.6 280.4 L86.1 278.6 L87.6 276.9 L89.1 275.3 L90.5 273.8 L92.0 272.3 L93.5 270.9 L95.0 269.6 L96.5 268.3 L98.0 267.1 L99.4 266.0 L100.9 264.9 L102.4 263.9 L103.9 262.9 L105.4 261.9 L106.9 261.1 L108.3 260.2 L109.8 259.4 L111.3 258.6 L112.8 257.9 L114.3 257.2 L115.7 256.5 L117.2 255.9 L118.7 255.2 L120.2 254.7 L121.7 254.1 L123.2 253.6 L124.6 253.1 L126.1 252.6 L127.6 252.2 L129.1 251.7 L130.6 251.3 L132.1 250.9 L133.5 250.5 L135.0 250.2 L136.5 249.8 L138.0 249.5 L139.5 249.2 L140.9 248.9 L142.4 248.6 L143.9 248.4 L145.4 248.1 L146.9 247.9 L148.4 247.6 L149.8 247.4 L151.3 247.2 L152.8 247.0 L154.3 246.8 L155.8 246.6 L157.3 246.5 L158.7 246.3 L160.2 246.1 L161.7 246.0 L163.2 245.9 L164.7 245.7 L166.2 245.6 L167.6 245.5 L169.1 245.4 L170.6 245.2 L172.1 245.1 L173.6 245.0 L175.0 244.9 L176.5 244.8 L178.0 244.8 L179.5 244.7 L181.0 244.6 L182.5 244.5 L183.9 244.4 L185.4 244.4 L186.9 244.3 L188.4 244.3 L189.9 244.2 L191.4 244.1 L192.8 244.1 L194.3 244.0 L195.8 244.0 L197.3 243.9 L198.8 243.9 L200.2 243.9" fill="none" stroke="#27966a" stroke-width="1.2" stroke-linejoin="round" />
<path d="M52.0 351.6 L53.5 346.3 L55.0 341.3 L56.4 336.5 L57.9 331.9 L59.4 327.6 L60.9 323.5 L62.4 319.5 L63.9 315.8 L65.3 312.2 L66.8 308.9 L68.3 305.7 L69.8 302.6 L71.3 299.7 L72.8 296.9 L74.2 294.3 L75.7 291.8 L77.2 289.4 L78.7 287.2 L80.2 285.0 L81.7 283.0 L83.1 281.0 L84.6 279.1 L86.1 277.4 L87.6 275.7 L89.1 274.1 L90.5 272.6 L92.0 271.2 L93.5 269.8 L95.0 268.5 L96.5 267.2 L98.0 266.1 L99.4 264.9 L100.9 263.9 L102.4 262.8 L103.9 261.9 L105.4 261.0 L106.9 260.1 L108.3 259.2 L109.8 258.5 L111.3 257.7 L112.8 257.0 L114.3 256.3 L115.7 255.7 L117.2 255.0 L118.7 254.4 L120.2 253.9 L121.7 253.4 L123.2 252.9 L124.6 252.4 L126.1 251.9 L127.6 251.5 L129.1 251.1 L130.6 250.7 L132.1 250.3 L133.5 249.9 L135.0 249.6 L136.5 249.3 L138.0 249.0 L139.5 248.7 L140.9 248.4 L142.4 248.1 L143.9 247.9 L145.4 247.7 L146.9 247.4 L148.4 247.2 L149.8 247.0 L151.3 246.8 L152.8 246.6 L154.3 246.4 L155.8 246.3 L157.3 246.1 L158.7 246.0 L160.2 245.8 L161.7 245.7 L163.2 245.6 L164.7 245.4 L166.2 245.3 L167.6 245.2 L169.1 245.1 L170.6 245.0 L172.1 244.9 L173.6 244.8 L175.0 244.7 L176.5 244.6 L178.0 244.5 L179.5 244.5 L181.0 244.4 L182.5 244.3 L183.9 244.3 L185.4 244.2 L186.9 244.1 L188.4 244.1 L189.9 244.0 L191.4 244.0 L192.8 243.9 L194.3 243.9 L195.8 243.9 L197.3 243.8 L198.8 243.8 L200.2 243.7" fill="none" stroke="#3d4ca4" stroke-width="1.2" stroke-linejoin="round" />
<path d="M141.0 247.5L144.1 251.1L141.0 254.7L137.8 251.1Z" fill="#1b1b1b"/>
<path d="M145.7 246.6L148.8 250.1L145.7 253.7L142.6 250.1Z" fill="#1b1b1b"/>
<path d="M150.4 247.6L153.5 251.2L150.4 254.7L147.3 251.2Z" fill="#1b1b1b"/>
<path d="M155.2 243.7L158.3 247.3L155.2 250.8L152.1 247.3Z" fill="#1b1b1b"/>
<path d="M159.9 243.4L163.0 247.0L159.9 250.5L156.8 247.0Z" fill="#1b1b1b"/>
<path d="M164.7 238.9L167.8 242.5L164.7 246.1L161.6 242.5Z" fill="#1b1b1b"/>
<path d="M169.4 241.8L172.5 245.3L169.4 248.9L166.3 245.3Z" fill="#1b1b1b"/>
<path d="M174.2 240.0L177.3 243.5L174.2 247.1L171.1 243.5Z" fill="#1b1b1b"/>
<path d="M178.9 241.3L182.0 244.9L178.9 248.4L175.8 244.9Z" fill="#1b1b1b"/>
<path d="M183.6 238.9L186.8 242.4L183.6 246.0L180.5 242.4Z" fill="#1b1b1b"/>
<path d="M188.4 241.4L191.5 245.0L188.4 248.5L185.3 245.0Z" fill="#1b1b1b"/>
<path d="M193.1 244.0L196.2 247.5L193.1 251.1L190.0 247.5Z" fill="#1b1b1b"/>
<path d="M197.9 232.5L201.0 236.1L197.9 239.7L194.8 236.1Z" fill="#1b1b1b"/>
<path d="M329.5 231.5V352.2" stroke="#2a2a2a" stroke-width="1.3" fill="none"/>
<path d="M329.0 351.7H510" stroke="#2a2a2a" stroke-width="1.3" fill="none"/>
<path d="M325.5 243.2H329.5" stroke="#2a2a2a" stroke-width="1.3"/>
<text x="325.0" y="246.29999999999998" font-size="8.6" font-weight="bold" text-anchor="end" fill="#222" >100</text>
<path d="M325.5 297.5H329.5" stroke="#2a2a2a" stroke-width="1.3"/>
<text x="325.0" y="300.6" font-size="8.6" font-weight="bold" text-anchor="end" fill="#222" >50</text>
<path d="M325.5 351.7H329.5" stroke="#2a2a2a" stroke-width="1.3"/>
<text x="325.0" y="354.8" font-size="8.6" font-weight="bold" text-anchor="end" fill="#222" >0</text>
<path d="M329.5 351.7V355.7" stroke="#2a2a2a" stroke-width="1.3"/>
<text x="329.5" y="364.7" font-size="8.6" font-weight="bold" text-anchor="middle" fill="#222" >0.01</text>
<path d="M374.5 351.7V355.7" stroke="#2a2a2a" stroke-width="1.3"/>
<text x="374.5" y="364.7" font-size="8.6" font-weight="bold" text-anchor="middle" fill="#222" >0.1</text>
<path d="M419.5 351.7V355.7" stroke="#2a2a2a" stroke-width="1.3"/>
<text x="419.5" y="364.7" font-size="8.6" font-weight="bold" text-anchor="middle" fill="#222" >1</text>
<path d="M464.5 351.7V355.7" stroke="#2a2a2a" stroke-width="1.3"/>
<text x="464.5" y="364.7" font-size="8.6" font-weight="bold" text-anchor="middle" fill="#222" >10</text>
<path d="M509.5 351.7V355.7" stroke="#2a2a2a" stroke-width="1.3"/>
<text x="509.5" y="364.7" font-size="8.6" font-weight="bold" text-anchor="middle" fill="#222" >100</text>
<path d="M343.0 351.7V354.2" stroke="#2a2a2a" stroke-width="1"/>
<path d="M351.0 351.7V354.2" stroke="#2a2a2a" stroke-width="1"/>
<path d="M356.6 351.7V354.2" stroke="#2a2a2a" stroke-width="1"/>
<path d="M361.0 351.7V354.2" stroke="#2a2a2a" stroke-width="1"/>
<path d="M364.5 351.7V354.2" stroke="#2a2a2a" stroke-width="1"/>
<path d="M367.5 351.7V354.2" stroke="#2a2a2a" stroke-width="1"/>
<path d="M370.1 351.7V354.2" stroke="#2a2a2a" stroke-width="1"/>
<path d="M372.4 351.7V354.2" stroke="#2a2a2a" stroke-width="1"/>
<path d="M388.0 351.7V354.2" stroke="#2a2a2a" stroke-width="1"/>
<path d="M396.0 351.7V354.2" stroke="#2a2a2a" stroke-width="1"/>
<path d="M401.6 351.7V354.2" stroke="#2a2a2a" stroke-width="1"/>
<path d="M406.0 351.7V354.2" stroke="#2a2a2a" stroke-width="1"/>
<path d="M409.5 351.7V354.2" stroke="#2a2a2a" stroke-width="1"/>
<path d="M412.5 351.7V354.2" stroke="#2a2a2a" stroke-width="1"/>
<path d="M415.1 351.7V354.2" stroke="#2a2a2a" stroke-width="1"/>
<path d="M417.4 351.7V354.2" stroke="#2a2a2a" stroke-width="1"/>
<path d="M433.0 351.7V354.2" stroke="#2a2a2a" stroke-width="1"/>
<path d="M441.0 351.7V354.2" stroke="#2a2a2a" stroke-width="1"/>
<path d="M446.6 351.7V354.2" stroke="#2a2a2a" stroke-width="1"/>
<path d="M451.0 351.7V354.2" stroke="#2a2a2a" stroke-width="1"/>
<path d="M454.5 351.7V354.2" stroke="#2a2a2a" stroke-width="1"/>
<path d="M457.5 351.7V354.2" stroke="#2a2a2a" stroke-width="1"/>
<path d="M460.1 351.7V354.2" stroke="#2a2a2a" stroke-width="1"/>
<path d="M462.4 351.7V354.2" stroke="#2a2a2a" stroke-width="1"/>
<path d="M478.0 351.7V354.2" stroke="#2a2a2a" stroke-width="1"/>
<path d="M486.0 351.7V354.2" stroke="#2a2a2a" stroke-width="1"/>
<path d="M491.6 351.7V354.2" stroke="#2a2a2a" stroke-width="1"/>
<path d="M496.0 351.7V354.2" stroke="#2a2a2a" stroke-width="1"/>
<path d="M499.5 351.7V354.2" stroke="#2a2a2a" stroke-width="1"/>
<path d="M502.5 351.7V354.2" stroke="#2a2a2a" stroke-width="1"/>
<path d="M505.1 351.7V354.2" stroke="#2a2a2a" stroke-width="1"/>
<path d="M507.4 351.7V354.2" stroke="#2a2a2a" stroke-width="1"/>
<text x="426.5" y="378" font-size="10.5" font-weight="bold" text-anchor="middle" fill="#222" textLength="110.4" lengthAdjust="spacingAndGlyphs" >[Nicked duplex] (nmol/L)</text>
<text x="0" y="0" font-size="10.5" font-weight="bold" text-anchor="middle" fill="#222" textLength="43" lengthAdjust="spacingAndGlyphs" transform="translate(306.9,291.7) rotate(-90)">% Bound</text>
<text x="274.5" y="206.6" font-size="12.5" font-weight="bold" text-anchor="start" fill="#111" >D</text>
<path d="M346.1 347.5 L347.5 347.2 L348.9 346.9 L350.2 346.5 L351.6 346.2 L352.9 345.8 L354.2 345.3 L355.6 344.9 L356.9 344.4 L358.3 343.9 L359.7 343.4 L361.0 342.8 L362.4 342.2 L363.7 341.5 L365.1 340.8 L366.4 340.1 L367.8 339.3 L369.1 338.5 L370.5 337.7 L371.8 336.8 L373.2 335.8 L374.5 334.8 L375.9 333.7 L377.2 332.6 L378.6 331.4 L379.9 330.2 L381.3 328.9 L382.6 327.6 L384.0 326.2 L385.3 324.8 L386.7 323.3 L388.0 321.7 L389.4 320.1 L390.7 318.5 L392.1 316.8 L393.4 315.0 L394.8 313.3 L396.1 311.4 L397.5 309.6 L398.8 307.7 L400.2 305.8 L401.5 303.9 L402.9 301.9 L404.2 300.0 L405.6 298.0 L406.9 296.0 L408.3 294.1 L409.6 292.1 L411.0 290.2 L412.3 288.2 L413.7 286.3 L415.0 284.5 L416.4 282.6 L417.7 280.8 L419.1 279.0 L420.4 277.3 L421.8 275.6 L423.1 274.0 L424.5 272.4 L425.8 270.9 L427.2 269.4 L428.5 268.0 L429.9 266.7 L431.2 265.3 L432.6 264.1 L433.9 262.9 L435.3 261.7 L436.6 260.6 L438.0 259.6 L439.3 258.6 L440.7 257.7 L442.0 256.8 L443.4 255.9 L444.7 255.1 L446.1 254.4 L447.4 253.7 L448.8 253.0 L450.1 252.4 L451.5 251.8 L452.8 251.2 L454.2 250.7 L455.5 250.2 L456.9 249.7 L458.2 249.3 L459.6 248.9 L460.9 248.5 L462.3 248.1 L463.6 247.8 L465.0 247.5 L466.3 247.2 L467.7 246.9" fill="none" stroke="#1b1b1b" stroke-width="3.2" stroke-linejoin="round" />
<path d="M346.1 347.0 L347.5 346.7 L348.9 346.3 L350.2 346.0 L351.6 345.5 L352.9 345.1 L354.2 344.6 L355.6 344.2 L356.9 343.6 L358.3 343.1 L359.7 342.5 L361.0 341.8 L362.4 341.2 L363.7 340.5 L365.1 339.7 L366.4 338.9 L367.8 338.1 L369.1 337.2 L370.5 336.3 L371.8 335.3 L373.2 334.2 L374.5 333.1 L375.9 332.0 L377.2 330.8 L378.6 329.5 L379.9 328.2 L381.3 326.9 L382.6 325.5 L384.0 324.0 L385.3 322.5 L386.7 320.9 L388.0 319.3 L389.4 317.6 L390.7 315.9 L392.1 314.1 L393.4 312.3 L394.8 310.5 L396.1 308.6 L397.5 306.7 L398.8 304.8 L400.2 302.8 L401.5 300.9 L402.9 298.9 L404.2 297.0 L405.6 295.0 L406.9 293.0 L408.3 291.1 L409.6 289.1 L411.0 287.2 L412.3 285.3 L413.7 283.5 L415.0 281.7 L416.4 279.9 L417.7 278.1 L419.1 276.4 L420.4 274.8 L421.8 273.2 L423.1 271.6 L424.5 270.1 L425.8 268.7 L427.2 267.3 L428.5 266.0 L429.9 264.7 L431.2 263.5 L432.6 262.3 L433.9 261.2 L435.3 260.1 L436.6 259.1 L438.0 258.1 L439.3 257.2 L440.7 256.3 L442.0 255.5 L443.4 254.7 L444.7 254.0 L446.1 253.3 L447.4 252.7 L448.8 252.1 L450.1 251.5 L451.5 250.9 L452.8 250.4 L454.2 249.9 L455.5 249.5 L456.9 249.1 L458.2 248.7 L459.6 248.3 L460.9 248.0 L462.3 247.6 L463.6 247.3 L465.0 247.0 L466.3 246.8 L467.7 246.5" fill="none" stroke="#2f9784" stroke-width="2.4" stroke-linejoin="round" />
<path d="M346.1 347.0 L347.5 346.7 L348.9 346.3 L350.2 346.0 L351.6 345.5 L352.9 345.1 L354.2 344.6 L355.6 344.2 L356.9 343.6 L358.3 343.1 L359.7 342.5 L361.0 341.8 L362.4 341.2 L363.7 340.5 L365.1 339.7 L366.4 338.9 L367.8 338.1 L369.1 337.2 L370.5 336.3 L371.8 335.3 L373.2 334.2 L374.5 333.1 L375.9 332.0 L377.2 330.8 L378.6 329.5 L379.9 328.2 L381.3 326.9 L382.6 325.5 L384.0 324.0 L385.3 322.5 L386.7 320.9 L388.0 319.3 L389.4 317.6 L390.7 315.9 L392.1 314.1 L393.4 312.3 L394.8 310.5 L396.1 308.6 L397.5 306.7 L398.8 304.8 L400.2 302.8 L401.5 300.9 L402.9 298.9 L404.2 297.0 L405.6 295.0 L406.9 293.0 L408.3 291.1 L409.6 289.1 L411.0 287.2 L412.3 285.3 L413.7 283.5 L415.0 281.7 L416.4 279.9 L417.7 278.1 L419.1 276.4 L420.4 274.8 L421.8 273.2 L423.1 271.6 L424.5 270.1 L425.8 268.7 L427.2 267.3 L428.5 266.0 L429.9 264.7 L431.2 263.5 L432.6 262.3 L433.9 261.2 L435.3 260.1 L436.6 259.1 L438.0 258.1 L439.3 257.2 L440.7 256.3 L442.0 255.5 L443.4 254.7 L444.7 254.0 L446.1 253.3 L447.4 252.7 L448.8 252.1 L450.1 251.5 L451.5 250.9 L452.8 250.4 L454.2 249.9 L455.5 249.5 L456.9 249.1 L458.2 248.7 L459.6 248.3 L460.9 248.0 L462.3 247.6 L463.6 247.3 L465.0 247.0 L466.3 246.8 L467.7 246.5" fill="none" stroke="#e8f4f1" stroke-width="0.7" stroke-linejoin="round" />
<path d="M346.1 346.2 L347.5 345.8 L348.9 345.4 L350.2 344.9 L351.6 344.4 L352.9 343.9 L354.2 343.4 L355.6 342.8 L356.9 342.2 L358.3 341.6 L359.7 340.9 L361.0 340.1 L362.4 339.4 L363.7 338.5 L365.1 337.7 L366.4 336.8 L367.8 335.8 L369.1 334.8 L370.5 333.7 L371.8 332.6 L373.2 331.5 L374.5 330.2 L375.9 329.0 L377.2 327.6 L378.6 326.3 L379.9 324.8 L381.3 323.3 L382.6 321.8 L384.0 320.2 L385.3 318.5 L386.7 316.8 L388.0 315.1 L389.4 313.3 L390.7 311.5 L392.1 309.6 L393.4 307.8 L394.8 305.8 L396.1 303.9 L397.5 302.0 L398.8 300.0 L400.2 298.0 L401.5 296.1 L402.9 294.1 L404.2 292.2 L405.6 290.2 L406.9 288.3 L408.3 286.4 L409.6 284.5 L411.0 282.7 L412.3 280.9 L413.7 279.1 L415.0 277.4 L416.4 275.7 L417.7 274.1 L419.1 272.5 L420.4 271.0 L421.8 269.5 L423.1 268.1 L424.5 266.7 L425.8 265.4 L427.2 264.1 L428.5 262.9 L429.9 261.8 L431.2 260.7 L432.6 259.6 L433.9 258.6 L435.3 257.7 L436.6 256.8 L438.0 256.0 L439.3 255.2 L440.7 254.4 L442.0 253.7 L443.4 253.0 L444.7 252.4 L446.1 251.8 L447.4 251.2 L448.8 250.7 L450.1 250.2 L451.5 249.7 L452.8 249.3 L454.2 248.9 L455.5 248.5 L456.9 248.1 L458.2 247.8 L459.6 247.5 L460.9 247.2 L462.3 246.9 L463.6 246.7 L465.0 246.4 L466.3 246.2 L467.7 246.0" fill="none" stroke="#c8326f" stroke-width="3.0" stroke-linejoin="round" />
<rect x="344.9" y="342.7" width="3.4" height="3.4" fill="#e5262c"/>
<rect x="358.5" y="337.8" width="3.4" height="3.4" fill="#e5262c"/>
<rect x="372.0" y="328.6" width="3.4" height="3.4" fill="#e5262c"/>
<rect x="385.6" y="315.0" width="3.4" height="3.4" fill="#e5262c"/>
<rect x="399.1" y="296.3" width="3.4" height="3.4" fill="#e5262c"/>
<rect x="412.7" y="277.2" width="3.4" height="3.4" fill="#e5262c"/>
<rect x="426.2" y="263.2" width="3.4" height="3.4" fill="#e5262c"/>
<rect x="439.8" y="251.4" width="3.4" height="3.4" fill="#e5262c"/>
<rect x="453.3" y="247.3" width="3.4" height="3.4" fill="#e5262c"/>
<rect x="466.8" y="243.0" width="3.4" height="3.4" fill="#e5262c"/>
<circle cx="346.6" cy="346.1" r="2.0" fill="#d25db4"/>
<circle cx="360.2" cy="338.5" r="2.0" fill="#d25db4"/>
<circle cx="373.7" cy="328.9" r="2.0" fill="#d25db4"/>
<circle cx="387.2" cy="316.3" r="2.0" fill="#d25db4"/>
<circle cx="400.8" cy="296.5" r="2.0" fill="#d25db4"/>
<circle cx="414.3" cy="275.5" r="2.0" fill="#d25db4"/>
<circle cx="427.9" cy="262.6" r="2.0" fill="#d25db4"/>
<circle cx="441.4" cy="251.9" r="2.0" fill="#d25db4"/>
<circle cx="455.0" cy="248.7" r="2.0" fill="#d25db4"/>
<circle cx="468.5" cy="247.1" r="2.0" fill="#d25db4"/>
<path d="M346.6 344.2L349.0 347.0L346.6 349.8L344.2 347.0Z" fill="#1b1b1b"/>
<path d="M360.2 339.5L362.6 342.2L360.2 345.0L357.7 342.2Z" fill="#1b1b1b"/>
<path d="M373.7 333.3L376.1 336.1L373.7 338.9L371.3 336.1Z" fill="#1b1b1b"/>
<path d="M387.2 321.2L389.7 323.9L387.2 326.7L384.8 323.9Z" fill="#1b1b1b"/>
<path d="M400.8 302.6L403.2 305.4L400.8 308.2L398.4 305.4Z" fill="#1b1b1b"/>
<path d="M414.3 281.1L416.8 283.9L414.3 286.6L411.9 283.9Z" fill="#1b1b1b"/>
<path d="M427.9 265.0L430.3 267.8L427.9 270.6L425.5 267.8Z" fill="#1b1b1b"/>
<path d="M441.4 255.6L443.9 258.4L441.4 261.2L439.0 258.4Z" fill="#1b1b1b"/>
<path d="M455.0 248.4L457.4 251.2L455.0 254.0L452.6 251.2Z" fill="#1b1b1b"/>
<path d="M468.5 245.2L471.0 248.0L468.5 250.8L466.1 248.0Z" fill="#1b1b1b"/>
<text x="1.8" y="427.7" font-size="12.2" font-weight="bold" text-anchor="start" fill="#111" >E</text>
<circle cx="38.2" cy="428" r="13.3" fill="#8a6cbb"/>
<text x="38.8" y="451" font-size="8.6" font-weight="normal" text-anchor="middle" fill="#444" textLength="23" lengthAdjust="spacingAndGlyphs" stroke="#444" stroke-width="0.2">PARP1</text>
<path d="M53.2 431.3L74.4 437.6" stroke="#1a1a1a" stroke-width="1.5"/>
<path d="M61.2 429.2L53 431.3L58.6 437.3" stroke="#1a1a1a" stroke-width="1.5" fill="none" stroke-linejoin="miter"/>
<path d="M68.9 432L74.6 437.6L67 439.4" stroke="#1a1a1a" stroke-width="1.5" fill="none"/>
<circle cx="87.9" cy="404.8" r="7.45" fill="none" stroke="#2b4c7c" stroke-width="1.6"/>
<path d="M83.6 411.9L77.5 435.4" stroke="#2b4c7c" stroke-width="1.5" fill="none"/>
<path d="M76.2 443.2L72.1 458" stroke="#2b4c7c" stroke-width="1.5" fill="none"/>
<path d="M87.6 412.1L76 462.6" stroke="#2b4c7c" stroke-width="1.5" fill="none"/>
<circle cx="75.8" cy="441.9" r="1.3" fill="#b03048"/>
<path d="M76.1 462.4Q75.6 464.2 73.5 464.2H70Q67.6 464.3 67.6 466.7Q67.7 469.2 70.5 469.3H72.5" stroke="#111" stroke-width="1.8" fill="none"/>
<circle cx="88.3" cy="483.7" r="13.8" fill="#c6c6c8" stroke="#111" stroke-width="2.3"/>
<circle cx="77.9" cy="474.8" r="5.7" fill="#ecc42a" stroke="#111" stroke-width="2.0"/>
<text x="77.9" y="477.2" font-size="6.2" font-weight="bold" text-anchor="middle" fill="#8a5a10" >B</text>
<text x="109.2" y="488" font-size="8.8" font-weight="normal" text-anchor="start" fill="#3a3a3a" textLength="42.3" lengthAdjust="spacingAndGlyphs" stroke="#333" stroke-width="0.25">Neutravidin</text>
<text x="96.9" y="438" font-size="8.8" font-weight="normal" text-anchor="start" fill="#3a3a3a" textLength="43.6" lengthAdjust="spacingAndGlyphs" stroke="#333" stroke-width="0.25">Biotinylated</text>
<text x="88.3" y="448" font-size="8.8" font-weight="normal" text-anchor="start" fill="#3a3a3a" textLength="62.5" lengthAdjust="spacingAndGlyphs" stroke="#333" stroke-width="0.25">hairpin w/ 5′-dRP</text>
<path d="M88.3 497.5V503" stroke="#111" stroke-width="1.2"/>
<text x="87.3" y="509.6" font-size="8.4" font-weight="normal" text-anchor="start" fill="#111" textLength="10.7" lengthAdjust="spacingAndGlyphs" stroke="#111" stroke-width="0.3">NH</text>
<path d="M88.3 511V516.5" stroke="#111" stroke-width="1.2"/>
<text x="87.0" y="522.7" font-size="8.4" font-weight="normal" text-anchor="start" fill="#111" stroke="#111" stroke-width="0.3">C</text>
<path d="M93.2 519.2H98.5M93.2 521.2H98.5" stroke="#222" stroke-width="1"/>
<text x="98.8" y="522.7" font-size="8.4" font-weight="normal" text-anchor="start" fill="#111" stroke="#111" stroke-width="0.3">O</text>
<path d="M88.3 523.5V528.3" stroke="#111" stroke-width="1.2"/>
<path d="M95.5 527.9Q84 529.5 78.6 532.3Q76.2 535.5 79.5 538.4Q84.5 540.2 82.5 543Q78 548 75.2 551.8" stroke="#111" stroke-width="1.3" fill="none"/>
<text x="103" y="537.7" font-size="8.8" font-weight="normal" text-anchor="start" fill="#3a3a3a" textLength="29" lengthAdjust="spacingAndGlyphs" stroke="#333" stroke-width="0.25">Dextran</text>
<text x="105.4" y="547.7" font-size="8.8" font-weight="normal" text-anchor="start" fill="#3a3a3a" textLength="23.5" lengthAdjust="spacingAndGlyphs" stroke="#333" stroke-width="0.25">matrix</text>
<path d="M39.5 551.6H128.5" stroke="#111" stroke-width="1.6"/>
<path d="M43.2 551.6L37.9 558M51.7 551.6L46.4 558M60.2 551.6L54.9 558M68.7 551.6L63.4 558M77.2 551.6L71.9 558M85.7 551.6L80.4 558M94.2 551.6L88.9 558M102.7 551.6L97.4 558M111.2 551.6L105.9 558M119.7 551.6L114.4 558M128.2 551.6L122.9 558" stroke="#111" stroke-width="1.3" fill="none"/>
<text x="282" y="447.1" font-size="9.9" font-weight="bold" text-anchor="start" fill="#1a1a1a" textLength="190.3" lengthAdjust="spacingAndGlyphs" stroke="#1a1a1a" stroke-width="0.15">PARP–DNA binding kinetics determined by BLI</text>
<path d="M237.8 449.4H520" stroke="#333" stroke-width="0.9"/>
<text x="171.2" y="462.6" font-size="9.9" font-weight="bold" text-anchor="start" fill="#1a1a1a" textLength="59.6" lengthAdjust="spacingAndGlyphs" stroke="#1a1a1a" stroke-width="0.15">PARP inhibitor</text>
<text x="240.5" y="462.6" font-size="9.9" font-weight="bold" fill="#1a1a1a" stroke="#1a1a1a" stroke-width="0.15" textLength="45.6" lengthAdjust="spacingAndGlyphs"><tspan font-style="italic">k</tspan><tspan font-size="6" dy="1.5" font-style="italic">a</tspan><tspan dy="-1.5"> (M</tspan><tspan font-size="6" dy="-3">−1</tspan><tspan dy="3">s</tspan><tspan font-size="6" dy="-3">−1</tspan><tspan dy="3">)</tspan></text>
<text x="295.8" y="462.6" font-size="9.9" font-weight="bold" fill="#1a1a1a" stroke="#1a1a1a" stroke-width="0.15" textLength="21.5" lengthAdjust="spacingAndGlyphs"><tspan font-style="italic">k</tspan><tspan font-size="6" dy="1.5" font-style="italic">a</tspan><tspan dy="-1.5"> SD</tspan></text>
<text x="342.8" y="462.6" font-size="9.9" font-weight="bold" fill="#1a1a1a" stroke="#1a1a1a" stroke-width="0.15" textLength="29.0" lengthAdjust="spacingAndGlyphs"><tspan font-style="italic">k</tspan><tspan font-size="6" dy="1.5" font-style="italic">d</tspan><tspan dy="-1.5"> (s</tspan><tspan font-size="6" dy="-3">−1</tspan><tspan dy="3">)</tspan></text>
<text x="391.2" y="462.6" font-size="9.9" font-weight="bold" fill="#1a1a1a" stroke="#1a1a1a" stroke-width="0.15" textLength="23.2" lengthAdjust="spacingAndGlyphs"><tspan font-style="italic">k</tspan><tspan font-size="6" dy="1.5" font-style="italic">d</tspan><tspan dy="-1.5"> SD</tspan></text>
<text x="435.2" y="462.6" font-size="9.9" font-weight="bold" fill="#1a1a1a" stroke="#1a1a1a" stroke-width="0.15" textLength="29.4" lengthAdjust="spacingAndGlyphs"><tspan font-style="italic">K</tspan><tspan font-size="6" dy="1.5" font-style="italic">D</tspan><tspan dy="-1.5"> (M)</tspan></text>
<text x="483.6" y="462.6" font-size="9.9" font-weight="bold" fill="#1a1a1a" stroke="#1a1a1a" stroke-width="0.15" textLength="26.0" lengthAdjust="spacingAndGlyphs"><tspan font-style="italic">K</tspan><tspan font-size="6" dy="1.5" font-style="italic">D</tspan><tspan dy="-1.5"> SD</tspan></text>
<path d="M167.7 466.1H520" stroke="#333" stroke-width="0.9"/>
<text x="171.2" y="477.3" font-size="9.7" font-weight="bold" text-anchor="start" fill="#1a1a1a" textLength="30" lengthAdjust="spacingAndGlyphs" stroke="#1a1a1a" stroke-width="0.15">Control</text>
<text x="248" y="477.3" font-size="9.5" font-weight="normal" text-anchor="start" fill="#1e1e1e" textLength="31.2" lengthAdjust="spacingAndGlyphs" stroke="#1e1e1e" stroke-width="0.25">2.9E+06</text>
<text x="294.8" y="477.3" font-size="9.5" font-weight="normal" text-anchor="start" fill="#1e1e1e" textLength="31.2" lengthAdjust="spacingAndGlyphs" stroke="#1e1e1e" stroke-width="0.25">1.0E+06</text>
<text x="341.7" y="477.3" font-size="9.5" font-weight="normal" text-anchor="start" fill="#1e1e1e" textLength="31.2" lengthAdjust="spacingAndGlyphs" stroke="#1e1e1e" stroke-width="0.25">8.9E-03</text>
<text x="388.5" y="477.3" font-size="9.5" font-weight="normal" text-anchor="start" fill="#1e1e1e" textLength="31.2" lengthAdjust="spacingAndGlyphs" stroke="#1e1e1e" stroke-width="0.25">2.9E-03</text>
<text x="435.2" y="477.3" font-size="9.5" font-weight="normal" text-anchor="start" fill="#1e1e1e" textLength="31.2" lengthAdjust="spacingAndGlyphs" stroke="#1e1e1e" stroke-width="0.25">3.1E-09</text>
<text x="481.9" y="477.3" font-size="9.5" font-weight="normal" text-anchor="start" fill="#1e1e1e" textLength="31.2" lengthAdjust="spacingAndGlyphs" stroke="#1e1e1e" stroke-width="0.25">1.4E-10</text>
<text x="171.2" y="490.35" font-size="9.7" font-weight="bold" text-anchor="start" fill="#1a1a1a" textLength="53" lengthAdjust="spacingAndGlyphs" stroke="#1a1a1a" stroke-width="0.15">Plus olaparib</text>
<text x="248" y="490.35" font-size="9.5" font-weight="normal" text-anchor="start" fill="#1e1e1e" textLength="31.2" lengthAdjust="spacingAndGlyphs" stroke="#1e1e1e" stroke-width="0.25">5.7E+06</text>
<text x="294.8" y="490.35" font-size="9.5" font-weight="normal" text-anchor="start" fill="#1e1e1e" textLength="31.2" lengthAdjust="spacingAndGlyphs" stroke="#1e1e1e" stroke-width="0.25">3.2E+06</text>
<text x="341.7" y="490.35" font-size="9.5" font-weight="normal" text-anchor="start" fill="#1e1e1e" textLength="31.2" lengthAdjust="spacingAndGlyphs" stroke="#1e1e1e" stroke-width="0.25">1.4E-02</text>
<text x="388.5" y="490.35" font-size="9.5" font-weight="normal" text-anchor="start" fill="#1e1e1e" textLength="31.2" lengthAdjust="spacingAndGlyphs" stroke="#1e1e1e" stroke-width="0.25">8.1E-03</text>
<text x="435.2" y="490.35" font-size="9.5" font-weight="normal" text-anchor="start" fill="#1e1e1e" textLength="31.2" lengthAdjust="spacingAndGlyphs" stroke="#1e1e1e" stroke-width="0.25">2.4E-09</text>
<text x="481.9" y="490.35" font-size="9.5" font-weight="normal" text-anchor="start" fill="#1e1e1e" textLength="31.2" lengthAdjust="spacingAndGlyphs" stroke="#1e1e1e" stroke-width="0.25">7.5E-11</text>
<text x="171.2" y="503.40000000000003" font-size="9.7" font-weight="bold" text-anchor="start" fill="#1a1a1a" textLength="56.1" lengthAdjust="spacingAndGlyphs" stroke="#1a1a1a" stroke-width="0.15">Plus niraparib</text>
<text x="248" y="503.40000000000003" font-size="9.5" font-weight="normal" text-anchor="start" fill="#1e1e1e" textLength="31.2" lengthAdjust="spacingAndGlyphs" stroke="#1e1e1e" stroke-width="0.25">8.3E+05</text>
<text x="294.8" y="503.40000000000003" font-size="9.5" font-weight="normal" text-anchor="start" fill="#1e1e1e" textLength="31.2" lengthAdjust="spacingAndGlyphs" stroke="#1e1e1e" stroke-width="0.25">1.4E+05</text>
<text x="341.7" y="503.40000000000003" font-size="9.5" font-weight="normal" text-anchor="start" fill="#1e1e1e" textLength="31.2" lengthAdjust="spacingAndGlyphs" stroke="#1e1e1e" stroke-width="0.25">7.0E-03</text>
<text x="388.5" y="503.40000000000003" font-size="9.5" font-weight="normal" text-anchor="start" fill="#1e1e1e" textLength="31.2" lengthAdjust="spacingAndGlyphs" stroke="#1e1e1e" stroke-width="0.25">8.9E-04</text>
<text x="435.2" y="503.40000000000003" font-size="9.5" font-weight="normal" text-anchor="start" fill="#1e1e1e" textLength="31.2" lengthAdjust="spacingAndGlyphs" stroke="#1e1e1e" stroke-width="0.25">8.6E-09</text>
<text x="481.9" y="503.40000000000003" font-size="9.5" font-weight="normal" text-anchor="start" fill="#1e1e1e" textLength="31.2" lengthAdjust="spacingAndGlyphs" stroke="#1e1e1e" stroke-width="0.25">6.1E-10</text>
<text x="171.2" y="516.45" font-size="9.7" font-weight="bold" text-anchor="start" fill="#1a1a1a" textLength="55.3" lengthAdjust="spacingAndGlyphs" stroke="#1a1a1a" stroke-width="0.15">Plus veliparib</text>
<text x="248" y="516.45" font-size="9.5" font-weight="normal" text-anchor="start" fill="#1e1e1e" textLength="31.2" lengthAdjust="spacingAndGlyphs" stroke="#1e1e1e" stroke-width="0.25">1.6E+06</text>
<text x="294.8" y="516.45" font-size="9.5" font-weight="normal" text-anchor="start" fill="#1e1e1e" textLength="31.2" lengthAdjust="spacingAndGlyphs" stroke="#1e1e1e" stroke-width="0.25">6.0E+05</text>
<text x="341.7" y="516.45" font-size="9.5" font-weight="normal" text-anchor="start" fill="#1e1e1e" textLength="31.2" lengthAdjust="spacingAndGlyphs" stroke="#1e1e1e" stroke-width="0.25">8.5E-03</text>
<text x="388.5" y="516.45" font-size="9.5" font-weight="normal" text-anchor="start" fill="#1e1e1e" textLength="31.2" lengthAdjust="spacingAndGlyphs" stroke="#1e1e1e" stroke-width="0.25">2.9E-03</text>
<text x="435.2" y="516.45" font-size="9.5" font-weight="normal" text-anchor="start" fill="#1e1e1e" textLength="31.2" lengthAdjust="spacingAndGlyphs" stroke="#1e1e1e" stroke-width="0.25">5.5E-09</text>
<text x="481.9" y="516.45" font-size="9.5" font-weight="normal" text-anchor="start" fill="#1e1e1e" textLength="31.2" lengthAdjust="spacingAndGlyphs" stroke="#1e1e1e" stroke-width="0.25">2.3E-10</text>
<text x="171.2" y="529.5" font-size="9.7" font-weight="bold" text-anchor="start" fill="#1a1a1a" textLength="64.9" lengthAdjust="spacingAndGlyphs" stroke="#1a1a1a" stroke-width="0.15">Plus talazoparib</text>
<text x="248" y="529.5" font-size="9.5" font-weight="normal" text-anchor="start" fill="#1e1e1e" textLength="31.2" lengthAdjust="spacingAndGlyphs" stroke="#1e1e1e" stroke-width="0.25">1.2E+06</text>
<text x="294.8" y="529.5" font-size="9.5" font-weight="normal" text-anchor="start" fill="#1e1e1e" textLength="31.2" lengthAdjust="spacingAndGlyphs" stroke="#1e1e1e" stroke-width="0.25">4.0E+05</text>
<text x="341.7" y="529.5" font-size="9.5" font-weight="normal" text-anchor="start" fill="#1e1e1e" textLength="31.2" lengthAdjust="spacingAndGlyphs" stroke="#1e1e1e" stroke-width="0.25">5.4E-03</text>
<text x="388.5" y="529.5" font-size="9.5" font-weight="normal" text-anchor="start" fill="#1e1e1e" textLength="31.2" lengthAdjust="spacingAndGlyphs" stroke="#1e1e1e" stroke-width="0.25">1.7E-03</text>
<text x="435.2" y="529.5" font-size="9.5" font-weight="normal" text-anchor="start" fill="#1e1e1e" textLength="31.2" lengthAdjust="spacingAndGlyphs" stroke="#1e1e1e" stroke-width="0.25">4.5E-09</text>
<text x="481.9" y="529.5" font-size="9.5" font-weight="normal" text-anchor="start" fill="#1e1e1e" textLength="31.2" lengthAdjust="spacingAndGlyphs" stroke="#1e1e1e" stroke-width="0.25">6.9E-11</text>
<path d="M167.5 532.8H520" stroke="#333" stroke-width="1"/>
</svg></body></html>
